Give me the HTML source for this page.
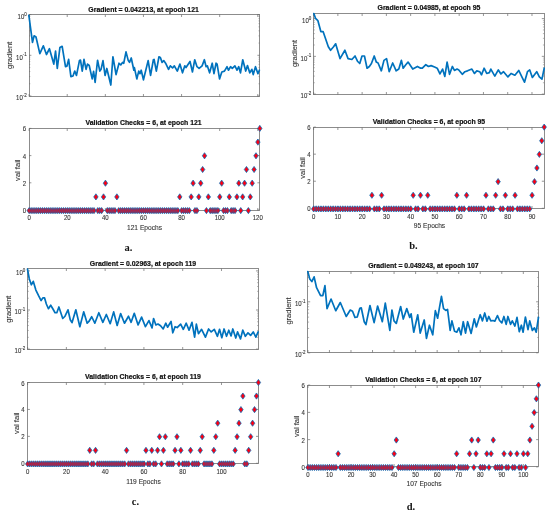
<!DOCTYPE html>
<html><head><meta charset="utf-8"><title>Training plots</title>
<style>
html,body{margin:0;padding:0;background:#fff;}
svg{display:block}
.t{font-family:"Liberation Sans",sans-serif;font-size:6.7px;fill:#333;stroke:#333;stroke-width:0.1px;}
.l{font-family:"Liberation Sans",sans-serif;font-size:7px;fill:#333;stroke:#333;stroke-width:0.1px;}
.b{font-family:"Liberation Sans",sans-serif;font-size:6.9px;font-weight:bold;fill:#111;stroke:#111;stroke-width:0.2px;}
.s{font-family:"Liberation Serif",serif;font-size:10.5px;font-weight:bold;fill:#111;}
</style></head><body>
<svg width="550" height="515" viewBox="0 0 550 515">
<rect width="550" height="515" fill="#fff"/>
<rect x="29.50" y="14.50" width="230.00" height="82.00" fill="none" stroke="#808080" stroke-width="0.9"/>
<path d="M29.10 96.50v-2.5M29.10 14.50v2.5" stroke="#6a6a6a" stroke-width="0.7" fill="none"/>
<path d="M67.22 96.50v-2.5M67.22 14.50v2.5" stroke="#6a6a6a" stroke-width="0.7" fill="none"/>
<path d="M105.33 96.50v-2.5M105.33 14.50v2.5" stroke="#6a6a6a" stroke-width="0.7" fill="none"/>
<path d="M143.45 96.50v-2.5M143.45 14.50v2.5" stroke="#6a6a6a" stroke-width="0.7" fill="none"/>
<path d="M181.56 96.50v-2.5M181.56 14.50v2.5" stroke="#6a6a6a" stroke-width="0.7" fill="none"/>
<path d="M219.68 96.50v-2.5M219.68 14.50v2.5" stroke="#6a6a6a" stroke-width="0.7" fill="none"/>
<path d="M257.79 96.50v-2.5M257.79 14.50v2.5" stroke="#6a6a6a" stroke-width="0.7" fill="none"/>
<path d="M29.10 14.60h2.3M259.70 14.60h-2.3" stroke="#6a6a6a" stroke-width="0.7" fill="none"/>
<text transform="translate(26.80 18.90) scale(0.9 1)" text-anchor="end" class="t">10<tspan dy="-3.3" font-size="5">0</tspan></text>
<path d="M29.10 55.30h2.3M259.70 55.30h-2.3" stroke="#6a6a6a" stroke-width="0.7" fill="none"/>
<text transform="translate(26.80 59.60) scale(0.9 1)" text-anchor="end" class="t">10<tspan dy="-3.3" font-size="5">-1</tspan></text>
<path d="M29.10 96.00h2.3M259.70 96.00h-2.3" stroke="#6a6a6a" stroke-width="0.7" fill="none"/>
<text transform="translate(26.80 100.30) scale(0.9 1)" text-anchor="end" class="t">10<tspan dy="-3.3" font-size="5">-2</tspan></text>
<path d="M29.10 43.05h1.2M259.70 43.05h-1.2" stroke="#6a6a6a" stroke-width="0.5" fill="none"/>
<path d="M29.10 35.88h1.2M259.70 35.88h-1.2" stroke="#6a6a6a" stroke-width="0.5" fill="none"/>
<path d="M29.10 30.80h1.2M259.70 30.80h-1.2" stroke="#6a6a6a" stroke-width="0.5" fill="none"/>
<path d="M29.10 26.85h1.2M259.70 26.85h-1.2" stroke="#6a6a6a" stroke-width="0.5" fill="none"/>
<path d="M29.10 23.63h1.2M259.70 23.63h-1.2" stroke="#6a6a6a" stroke-width="0.5" fill="none"/>
<path d="M29.10 20.90h1.2M259.70 20.90h-1.2" stroke="#6a6a6a" stroke-width="0.5" fill="none"/>
<path d="M29.10 18.54h1.2M259.70 18.54h-1.2" stroke="#6a6a6a" stroke-width="0.5" fill="none"/>
<path d="M29.10 16.46h1.2M259.70 16.46h-1.2" stroke="#6a6a6a" stroke-width="0.5" fill="none"/>
<path d="M29.10 83.75h1.2M259.70 83.75h-1.2" stroke="#6a6a6a" stroke-width="0.5" fill="none"/>
<path d="M29.10 76.58h1.2M259.70 76.58h-1.2" stroke="#6a6a6a" stroke-width="0.5" fill="none"/>
<path d="M29.10 71.50h1.2M259.70 71.50h-1.2" stroke="#6a6a6a" stroke-width="0.5" fill="none"/>
<path d="M29.10 67.55h1.2M259.70 67.55h-1.2" stroke="#6a6a6a" stroke-width="0.5" fill="none"/>
<path d="M29.10 64.33h1.2M259.70 64.33h-1.2" stroke="#6a6a6a" stroke-width="0.5" fill="none"/>
<path d="M29.10 61.60h1.2M259.70 61.60h-1.2" stroke="#6a6a6a" stroke-width="0.5" fill="none"/>
<path d="M29.10 59.24h1.2M259.70 59.24h-1.2" stroke="#6a6a6a" stroke-width="0.5" fill="none"/>
<path d="M29.10 57.16h1.2M259.70 57.16h-1.2" stroke="#6a6a6a" stroke-width="0.5" fill="none"/>
<text x="143.60" y="11.60" text-anchor="middle" class="b">Gradient = 0.042213, at epoch 121</text>
<text transform="translate(11.80 55.30) rotate(-90) scale(1.08 1)" text-anchor="middle" class="l">gradient</text>
<path d="M28.84 15.24 L32.50 42.29 L34.08 35.83 L35.99 37.05 L39.83 53.63 L43.32 45.78 L46.47 54.50 L49.43 48.74 L53.80 64.10 L55.54 51.01 L57.29 68.46 L59.90 47.52 L62.17 46.30 L65.49 66.72 L66.88 66.20 L68.63 59.39 L70.90 76.67 L72.99 75.97 L74.74 71.08 L76.48 75.45 L79.45 60.61 L80.50 60.09 L82.24 71.08 L83.99 59.39 L86.08 69.34 L87.48 64.10 L89.22 65.50 L92.19 78.94 L93.59 71.43 L95.12 82.43 L97.57 60.26 L99.83 71.08 L101.06 69.34 L102.98 60.61 L105.07 75.45 L106.82 68.46 L110.83 85.04 L112.92 56.77 L116.06 74.57 L119.03 63.23 L120.78 64.97 L122.52 62.36 L123.74 63.23 L126.01 51.88 L128.28 60.61 L129.50 62.36 L131.25 57.99 L133.87 70.21 L134.39 67.59 L136.83 78.94 L138.75 71.08 L139.97 73.70 L141.20 70.21 L143.46 79.81 L148.14 60.61 L150.58 75.45 L153.38 59.74 L154.08 59.39 L156.34 71.08 L158.96 56.77 L160.36 57.47 L162.10 62.36 L163.85 60.61 L165.59 63.23 L168.56 69.34 L170.31 65.85 L172.57 67.94 L174.32 65.85 L177.29 71.08 L179.90 64.10 L182.52 72.83 L184.79 65.85 L186.01 67.59 L190.03 61.48 L192.47 71.95 L194.74 59.74 L197.01 66.72 L199.10 68.46 L202.09 65.85 L204.36 59.74 L206.11 66.72 L207.33 65.85 L209.60 72.83 L212.22 63.23 L213.96 73.70 L216.06 63.23 L217.10 64.10 L219.55 78.94 L221.82 71.95 L224.43 71.08 L227.05 66.72 L228.45 70.21 L230.54 66.72 L232.29 68.46 L234.90 65.85 L237.00 70.21 L238.74 66.72 L240.49 72.83 L242.76 59.74 L245.72 71.08 L247.47 65.50 L249.74 72.83 L251.83 69.34 L253.23 74.57 L255.50 66.72 L257.94 73.70 L259.34 70.21" fill="none" stroke="#0072BD" stroke-width="1.7" stroke-linejoin="round" stroke-linecap="round"/>
<rect x="29.50" y="128.50" width="230.00" height="82.00" fill="none" stroke="#808080" stroke-width="0.9"/>
<path d="M29.10 210.50v-2.5M29.10 128.50v2.5" stroke="#6a6a6a" stroke-width="0.7" fill="none"/>
<text transform="translate(29.10 220.10) scale(0.9 1)" text-anchor="middle" class="t">0</text>
<path d="M67.22 210.50v-2.5M67.22 128.50v2.5" stroke="#6a6a6a" stroke-width="0.7" fill="none"/>
<text transform="translate(67.22 220.10) scale(0.9 1)" text-anchor="middle" class="t">20</text>
<path d="M105.33 210.50v-2.5M105.33 128.50v2.5" stroke="#6a6a6a" stroke-width="0.7" fill="none"/>
<text transform="translate(105.33 220.10) scale(0.9 1)" text-anchor="middle" class="t">40</text>
<path d="M143.45 210.50v-2.5M143.45 128.50v2.5" stroke="#6a6a6a" stroke-width="0.7" fill="none"/>
<text transform="translate(143.45 220.10) scale(0.9 1)" text-anchor="middle" class="t">60</text>
<path d="M181.56 210.50v-2.5M181.56 128.50v2.5" stroke="#6a6a6a" stroke-width="0.7" fill="none"/>
<text transform="translate(181.56 220.10) scale(0.9 1)" text-anchor="middle" class="t">80</text>
<path d="M219.68 210.50v-2.5M219.68 128.50v2.5" stroke="#6a6a6a" stroke-width="0.7" fill="none"/>
<text transform="translate(219.68 220.10) scale(0.9 1)" text-anchor="middle" class="t">100</text>
<path d="M257.79 210.50v-2.5M257.79 128.50v2.5" stroke="#6a6a6a" stroke-width="0.7" fill="none"/>
<text transform="translate(257.79 220.10) scale(0.9 1)" text-anchor="middle" class="t">120</text>
<path d="M29.10 210.00h2.3M259.70 210.00h-2.3" stroke="#6a6a6a" stroke-width="0.7" fill="none"/>
<text transform="translate(26.10 213.00) scale(0.9 1)" text-anchor="end" class="t">0</text>
<path d="M29.10 182.80h2.3M259.70 182.80h-2.3" stroke="#6a6a6a" stroke-width="0.7" fill="none"/>
<text transform="translate(26.10 185.80) scale(0.9 1)" text-anchor="end" class="t">2</text>
<path d="M29.10 155.60h2.3M259.70 155.60h-2.3" stroke="#6a6a6a" stroke-width="0.7" fill="none"/>
<text transform="translate(26.10 158.60) scale(0.9 1)" text-anchor="end" class="t">4</text>
<path d="M29.10 128.40h2.3M259.70 128.40h-2.3" stroke="#6a6a6a" stroke-width="0.7" fill="none"/>
<text transform="translate(26.10 131.40) scale(0.9 1)" text-anchor="end" class="t">6</text>
<path d="M29.20 207.50l2.2 3.1l-2.2 3.1l-2.2 -3.1zM31.11 207.50l2.2 3.1l-2.2 3.1l-2.2 -3.1zM33.01 207.50l2.2 3.1l-2.2 3.1l-2.2 -3.1zM34.92 207.50l2.2 3.1l-2.2 3.1l-2.2 -3.1zM36.82 207.50l2.2 3.1l-2.2 3.1l-2.2 -3.1zM38.73 207.50l2.2 3.1l-2.2 3.1l-2.2 -3.1zM40.63 207.50l2.2 3.1l-2.2 3.1l-2.2 -3.1zM42.54 207.50l2.2 3.1l-2.2 3.1l-2.2 -3.1zM44.45 207.50l2.2 3.1l-2.2 3.1l-2.2 -3.1zM46.35 207.50l2.2 3.1l-2.2 3.1l-2.2 -3.1zM48.26 207.50l2.2 3.1l-2.2 3.1l-2.2 -3.1zM50.16 207.50l2.2 3.1l-2.2 3.1l-2.2 -3.1zM52.07 207.50l2.2 3.1l-2.2 3.1l-2.2 -3.1zM53.98 207.50l2.2 3.1l-2.2 3.1l-2.2 -3.1zM55.88 207.50l2.2 3.1l-2.2 3.1l-2.2 -3.1zM57.79 207.50l2.2 3.1l-2.2 3.1l-2.2 -3.1zM59.69 207.50l2.2 3.1l-2.2 3.1l-2.2 -3.1zM61.60 207.50l2.2 3.1l-2.2 3.1l-2.2 -3.1zM63.50 207.50l2.2 3.1l-2.2 3.1l-2.2 -3.1zM65.41 207.50l2.2 3.1l-2.2 3.1l-2.2 -3.1zM67.32 207.50l2.2 3.1l-2.2 3.1l-2.2 -3.1zM69.22 207.50l2.2 3.1l-2.2 3.1l-2.2 -3.1zM71.13 207.50l2.2 3.1l-2.2 3.1l-2.2 -3.1zM73.03 207.50l2.2 3.1l-2.2 3.1l-2.2 -3.1zM74.94 207.50l2.2 3.1l-2.2 3.1l-2.2 -3.1zM76.84 207.50l2.2 3.1l-2.2 3.1l-2.2 -3.1zM78.75 207.50l2.2 3.1l-2.2 3.1l-2.2 -3.1zM80.66 207.50l2.2 3.1l-2.2 3.1l-2.2 -3.1zM82.56 207.50l2.2 3.1l-2.2 3.1l-2.2 -3.1zM84.47 207.50l2.2 3.1l-2.2 3.1l-2.2 -3.1zM86.37 207.50l2.2 3.1l-2.2 3.1l-2.2 -3.1zM88.28 207.50l2.2 3.1l-2.2 3.1l-2.2 -3.1zM90.19 207.50l2.2 3.1l-2.2 3.1l-2.2 -3.1zM92.09 207.50l2.2 3.1l-2.2 3.1l-2.2 -3.1zM94.00 207.50l2.2 3.1l-2.2 3.1l-2.2 -3.1zM95.90 193.80l2.2 3.1l-2.2 3.1l-2.2 -3.1zM97.81 207.50l2.2 3.1l-2.2 3.1l-2.2 -3.1zM99.71 207.50l2.2 3.1l-2.2 3.1l-2.2 -3.1zM101.62 207.50l2.2 3.1l-2.2 3.1l-2.2 -3.1zM103.53 193.80l2.2 3.1l-2.2 3.1l-2.2 -3.1zM105.43 180.10l2.2 3.1l-2.2 3.1l-2.2 -3.1zM107.34 207.50l2.2 3.1l-2.2 3.1l-2.2 -3.1zM109.24 207.50l2.2 3.1l-2.2 3.1l-2.2 -3.1zM111.15 207.50l2.2 3.1l-2.2 3.1l-2.2 -3.1zM113.05 207.50l2.2 3.1l-2.2 3.1l-2.2 -3.1zM114.96 207.50l2.2 3.1l-2.2 3.1l-2.2 -3.1zM116.87 193.80l2.2 3.1l-2.2 3.1l-2.2 -3.1zM118.77 207.50l2.2 3.1l-2.2 3.1l-2.2 -3.1zM120.68 207.50l2.2 3.1l-2.2 3.1l-2.2 -3.1zM122.58 207.50l2.2 3.1l-2.2 3.1l-2.2 -3.1zM124.49 207.50l2.2 3.1l-2.2 3.1l-2.2 -3.1zM126.40 207.50l2.2 3.1l-2.2 3.1l-2.2 -3.1zM128.30 207.50l2.2 3.1l-2.2 3.1l-2.2 -3.1zM130.21 207.50l2.2 3.1l-2.2 3.1l-2.2 -3.1zM132.11 207.50l2.2 3.1l-2.2 3.1l-2.2 -3.1zM134.02 207.50l2.2 3.1l-2.2 3.1l-2.2 -3.1zM135.92 207.50l2.2 3.1l-2.2 3.1l-2.2 -3.1zM137.83 207.50l2.2 3.1l-2.2 3.1l-2.2 -3.1zM139.74 207.50l2.2 3.1l-2.2 3.1l-2.2 -3.1zM141.64 207.50l2.2 3.1l-2.2 3.1l-2.2 -3.1zM143.55 207.50l2.2 3.1l-2.2 3.1l-2.2 -3.1zM145.45 207.50l2.2 3.1l-2.2 3.1l-2.2 -3.1zM147.36 207.50l2.2 3.1l-2.2 3.1l-2.2 -3.1zM149.26 207.50l2.2 3.1l-2.2 3.1l-2.2 -3.1zM151.17 207.50l2.2 3.1l-2.2 3.1l-2.2 -3.1zM153.08 207.50l2.2 3.1l-2.2 3.1l-2.2 -3.1zM154.98 207.50l2.2 3.1l-2.2 3.1l-2.2 -3.1zM156.89 207.50l2.2 3.1l-2.2 3.1l-2.2 -3.1zM158.79 207.50l2.2 3.1l-2.2 3.1l-2.2 -3.1zM160.70 207.50l2.2 3.1l-2.2 3.1l-2.2 -3.1zM162.60 207.50l2.2 3.1l-2.2 3.1l-2.2 -3.1zM164.51 207.50l2.2 3.1l-2.2 3.1l-2.2 -3.1zM166.42 207.50l2.2 3.1l-2.2 3.1l-2.2 -3.1zM168.32 207.50l2.2 3.1l-2.2 3.1l-2.2 -3.1zM170.23 207.50l2.2 3.1l-2.2 3.1l-2.2 -3.1zM172.13 207.50l2.2 3.1l-2.2 3.1l-2.2 -3.1zM174.04 207.50l2.2 3.1l-2.2 3.1l-2.2 -3.1zM175.95 207.50l2.2 3.1l-2.2 3.1l-2.2 -3.1zM177.85 207.50l2.2 3.1l-2.2 3.1l-2.2 -3.1zM179.76 193.80l2.2 3.1l-2.2 3.1l-2.2 -3.1zM181.66 207.50l2.2 3.1l-2.2 3.1l-2.2 -3.1zM183.57 207.50l2.2 3.1l-2.2 3.1l-2.2 -3.1zM185.47 207.50l2.2 3.1l-2.2 3.1l-2.2 -3.1zM187.38 207.50l2.2 3.1l-2.2 3.1l-2.2 -3.1zM189.29 207.50l2.2 3.1l-2.2 3.1l-2.2 -3.1zM191.19 193.80l2.2 3.1l-2.2 3.1l-2.2 -3.1zM193.10 180.10l2.2 3.1l-2.2 3.1l-2.2 -3.1zM195.00 207.50l2.2 3.1l-2.2 3.1l-2.2 -3.1zM196.91 207.50l2.2 3.1l-2.2 3.1l-2.2 -3.1zM198.81 193.80l2.2 3.1l-2.2 3.1l-2.2 -3.1zM200.72 180.10l2.2 3.1l-2.2 3.1l-2.2 -3.1zM202.63 166.40l2.2 3.1l-2.2 3.1l-2.2 -3.1zM204.53 152.70l2.2 3.1l-2.2 3.1l-2.2 -3.1zM206.44 207.50l2.2 3.1l-2.2 3.1l-2.2 -3.1zM208.34 193.80l2.2 3.1l-2.2 3.1l-2.2 -3.1zM210.25 207.50l2.2 3.1l-2.2 3.1l-2.2 -3.1zM212.16 207.50l2.2 3.1l-2.2 3.1l-2.2 -3.1zM214.06 207.50l2.2 3.1l-2.2 3.1l-2.2 -3.1zM215.97 207.50l2.2 3.1l-2.2 3.1l-2.2 -3.1zM217.87 207.50l2.2 3.1l-2.2 3.1l-2.2 -3.1zM219.78 193.80l2.2 3.1l-2.2 3.1l-2.2 -3.1zM221.68 180.10l2.2 3.1l-2.2 3.1l-2.2 -3.1zM223.59 207.50l2.2 3.1l-2.2 3.1l-2.2 -3.1zM225.50 207.50l2.2 3.1l-2.2 3.1l-2.2 -3.1zM227.40 207.50l2.2 3.1l-2.2 3.1l-2.2 -3.1zM229.31 193.80l2.2 3.1l-2.2 3.1l-2.2 -3.1zM231.21 207.50l2.2 3.1l-2.2 3.1l-2.2 -3.1zM233.12 207.50l2.2 3.1l-2.2 3.1l-2.2 -3.1zM235.02 207.50l2.2 3.1l-2.2 3.1l-2.2 -3.1zM236.93 193.80l2.2 3.1l-2.2 3.1l-2.2 -3.1zM238.84 180.10l2.2 3.1l-2.2 3.1l-2.2 -3.1zM240.74 207.50l2.2 3.1l-2.2 3.1l-2.2 -3.1zM242.65 193.80l2.2 3.1l-2.2 3.1l-2.2 -3.1zM244.55 180.10l2.2 3.1l-2.2 3.1l-2.2 -3.1zM246.46 166.40l2.2 3.1l-2.2 3.1l-2.2 -3.1zM248.37 207.50l2.2 3.1l-2.2 3.1l-2.2 -3.1zM250.27 193.80l2.2 3.1l-2.2 3.1l-2.2 -3.1zM252.18 180.10l2.2 3.1l-2.2 3.1l-2.2 -3.1zM254.08 166.40l2.2 3.1l-2.2 3.1l-2.2 -3.1zM255.99 152.70l2.2 3.1l-2.2 3.1l-2.2 -3.1zM257.89 139.00l2.2 3.1l-2.2 3.1l-2.2 -3.1zM259.80 125.30l2.2 3.1l-2.2 3.1l-2.2 -3.1z" fill="#fa0015" stroke="#0072BD" stroke-width="0.75" stroke-linejoin="miter"/>
<path d="M29.20 208.40l1.4 2.2l-1.4 2.2l-1.4 -2.2zM31.11 208.40l1.4 2.2l-1.4 2.2l-1.4 -2.2zM33.01 208.40l1.4 2.2l-1.4 2.2l-1.4 -2.2zM34.92 208.40l1.4 2.2l-1.4 2.2l-1.4 -2.2zM36.82 208.40l1.4 2.2l-1.4 2.2l-1.4 -2.2zM38.73 208.40l1.4 2.2l-1.4 2.2l-1.4 -2.2zM40.63 208.40l1.4 2.2l-1.4 2.2l-1.4 -2.2zM42.54 208.40l1.4 2.2l-1.4 2.2l-1.4 -2.2zM44.45 208.40l1.4 2.2l-1.4 2.2l-1.4 -2.2zM46.35 208.40l1.4 2.2l-1.4 2.2l-1.4 -2.2zM48.26 208.40l1.4 2.2l-1.4 2.2l-1.4 -2.2zM50.16 208.40l1.4 2.2l-1.4 2.2l-1.4 -2.2zM52.07 208.40l1.4 2.2l-1.4 2.2l-1.4 -2.2zM53.98 208.40l1.4 2.2l-1.4 2.2l-1.4 -2.2zM55.88 208.40l1.4 2.2l-1.4 2.2l-1.4 -2.2zM57.79 208.40l1.4 2.2l-1.4 2.2l-1.4 -2.2zM59.69 208.40l1.4 2.2l-1.4 2.2l-1.4 -2.2zM61.60 208.40l1.4 2.2l-1.4 2.2l-1.4 -2.2zM63.50 208.40l1.4 2.2l-1.4 2.2l-1.4 -2.2zM65.41 208.40l1.4 2.2l-1.4 2.2l-1.4 -2.2zM67.32 208.40l1.4 2.2l-1.4 2.2l-1.4 -2.2zM69.22 208.40l1.4 2.2l-1.4 2.2l-1.4 -2.2zM71.13 208.40l1.4 2.2l-1.4 2.2l-1.4 -2.2zM73.03 208.40l1.4 2.2l-1.4 2.2l-1.4 -2.2zM74.94 208.40l1.4 2.2l-1.4 2.2l-1.4 -2.2zM76.84 208.40l1.4 2.2l-1.4 2.2l-1.4 -2.2zM78.75 208.40l1.4 2.2l-1.4 2.2l-1.4 -2.2zM80.66 208.40l1.4 2.2l-1.4 2.2l-1.4 -2.2zM82.56 208.40l1.4 2.2l-1.4 2.2l-1.4 -2.2zM84.47 208.40l1.4 2.2l-1.4 2.2l-1.4 -2.2zM86.37 208.40l1.4 2.2l-1.4 2.2l-1.4 -2.2zM88.28 208.40l1.4 2.2l-1.4 2.2l-1.4 -2.2zM90.19 208.40l1.4 2.2l-1.4 2.2l-1.4 -2.2zM92.09 208.40l1.4 2.2l-1.4 2.2l-1.4 -2.2zM94.00 208.40l1.4 2.2l-1.4 2.2l-1.4 -2.2zM95.90 194.70l1.4 2.2l-1.4 2.2l-1.4 -2.2zM97.81 208.40l1.4 2.2l-1.4 2.2l-1.4 -2.2zM99.71 208.40l1.4 2.2l-1.4 2.2l-1.4 -2.2zM101.62 208.40l1.4 2.2l-1.4 2.2l-1.4 -2.2zM103.53 194.70l1.4 2.2l-1.4 2.2l-1.4 -2.2zM105.43 181.00l1.4 2.2l-1.4 2.2l-1.4 -2.2zM107.34 208.40l1.4 2.2l-1.4 2.2l-1.4 -2.2zM109.24 208.40l1.4 2.2l-1.4 2.2l-1.4 -2.2zM111.15 208.40l1.4 2.2l-1.4 2.2l-1.4 -2.2zM113.05 208.40l1.4 2.2l-1.4 2.2l-1.4 -2.2zM114.96 208.40l1.4 2.2l-1.4 2.2l-1.4 -2.2zM116.87 194.70l1.4 2.2l-1.4 2.2l-1.4 -2.2zM118.77 208.40l1.4 2.2l-1.4 2.2l-1.4 -2.2zM120.68 208.40l1.4 2.2l-1.4 2.2l-1.4 -2.2zM122.58 208.40l1.4 2.2l-1.4 2.2l-1.4 -2.2zM124.49 208.40l1.4 2.2l-1.4 2.2l-1.4 -2.2zM126.40 208.40l1.4 2.2l-1.4 2.2l-1.4 -2.2zM128.30 208.40l1.4 2.2l-1.4 2.2l-1.4 -2.2zM130.21 208.40l1.4 2.2l-1.4 2.2l-1.4 -2.2zM132.11 208.40l1.4 2.2l-1.4 2.2l-1.4 -2.2zM134.02 208.40l1.4 2.2l-1.4 2.2l-1.4 -2.2zM135.92 208.40l1.4 2.2l-1.4 2.2l-1.4 -2.2zM137.83 208.40l1.4 2.2l-1.4 2.2l-1.4 -2.2zM139.74 208.40l1.4 2.2l-1.4 2.2l-1.4 -2.2zM141.64 208.40l1.4 2.2l-1.4 2.2l-1.4 -2.2zM143.55 208.40l1.4 2.2l-1.4 2.2l-1.4 -2.2zM145.45 208.40l1.4 2.2l-1.4 2.2l-1.4 -2.2zM147.36 208.40l1.4 2.2l-1.4 2.2l-1.4 -2.2zM149.26 208.40l1.4 2.2l-1.4 2.2l-1.4 -2.2zM151.17 208.40l1.4 2.2l-1.4 2.2l-1.4 -2.2zM153.08 208.40l1.4 2.2l-1.4 2.2l-1.4 -2.2zM154.98 208.40l1.4 2.2l-1.4 2.2l-1.4 -2.2zM156.89 208.40l1.4 2.2l-1.4 2.2l-1.4 -2.2zM158.79 208.40l1.4 2.2l-1.4 2.2l-1.4 -2.2zM160.70 208.40l1.4 2.2l-1.4 2.2l-1.4 -2.2zM162.60 208.40l1.4 2.2l-1.4 2.2l-1.4 -2.2zM164.51 208.40l1.4 2.2l-1.4 2.2l-1.4 -2.2zM166.42 208.40l1.4 2.2l-1.4 2.2l-1.4 -2.2zM168.32 208.40l1.4 2.2l-1.4 2.2l-1.4 -2.2zM170.23 208.40l1.4 2.2l-1.4 2.2l-1.4 -2.2zM172.13 208.40l1.4 2.2l-1.4 2.2l-1.4 -2.2zM174.04 208.40l1.4 2.2l-1.4 2.2l-1.4 -2.2zM175.95 208.40l1.4 2.2l-1.4 2.2l-1.4 -2.2zM177.85 208.40l1.4 2.2l-1.4 2.2l-1.4 -2.2zM179.76 194.70l1.4 2.2l-1.4 2.2l-1.4 -2.2zM181.66 208.40l1.4 2.2l-1.4 2.2l-1.4 -2.2zM183.57 208.40l1.4 2.2l-1.4 2.2l-1.4 -2.2zM185.47 208.40l1.4 2.2l-1.4 2.2l-1.4 -2.2zM187.38 208.40l1.4 2.2l-1.4 2.2l-1.4 -2.2zM189.29 208.40l1.4 2.2l-1.4 2.2l-1.4 -2.2zM191.19 194.70l1.4 2.2l-1.4 2.2l-1.4 -2.2zM193.10 181.00l1.4 2.2l-1.4 2.2l-1.4 -2.2zM195.00 208.40l1.4 2.2l-1.4 2.2l-1.4 -2.2zM196.91 208.40l1.4 2.2l-1.4 2.2l-1.4 -2.2zM198.81 194.70l1.4 2.2l-1.4 2.2l-1.4 -2.2zM200.72 181.00l1.4 2.2l-1.4 2.2l-1.4 -2.2zM202.63 167.30l1.4 2.2l-1.4 2.2l-1.4 -2.2zM204.53 153.60l1.4 2.2l-1.4 2.2l-1.4 -2.2zM206.44 208.40l1.4 2.2l-1.4 2.2l-1.4 -2.2zM208.34 194.70l1.4 2.2l-1.4 2.2l-1.4 -2.2zM210.25 208.40l1.4 2.2l-1.4 2.2l-1.4 -2.2zM212.16 208.40l1.4 2.2l-1.4 2.2l-1.4 -2.2zM214.06 208.40l1.4 2.2l-1.4 2.2l-1.4 -2.2zM215.97 208.40l1.4 2.2l-1.4 2.2l-1.4 -2.2zM217.87 208.40l1.4 2.2l-1.4 2.2l-1.4 -2.2zM219.78 194.70l1.4 2.2l-1.4 2.2l-1.4 -2.2zM221.68 181.00l1.4 2.2l-1.4 2.2l-1.4 -2.2zM223.59 208.40l1.4 2.2l-1.4 2.2l-1.4 -2.2zM225.50 208.40l1.4 2.2l-1.4 2.2l-1.4 -2.2zM227.40 208.40l1.4 2.2l-1.4 2.2l-1.4 -2.2zM229.31 194.70l1.4 2.2l-1.4 2.2l-1.4 -2.2zM231.21 208.40l1.4 2.2l-1.4 2.2l-1.4 -2.2zM233.12 208.40l1.4 2.2l-1.4 2.2l-1.4 -2.2zM235.02 208.40l1.4 2.2l-1.4 2.2l-1.4 -2.2zM236.93 194.70l1.4 2.2l-1.4 2.2l-1.4 -2.2zM238.84 181.00l1.4 2.2l-1.4 2.2l-1.4 -2.2zM240.74 208.40l1.4 2.2l-1.4 2.2l-1.4 -2.2zM242.65 194.70l1.4 2.2l-1.4 2.2l-1.4 -2.2zM244.55 181.00l1.4 2.2l-1.4 2.2l-1.4 -2.2zM246.46 167.30l1.4 2.2l-1.4 2.2l-1.4 -2.2zM248.37 208.40l1.4 2.2l-1.4 2.2l-1.4 -2.2zM250.27 194.70l1.4 2.2l-1.4 2.2l-1.4 -2.2zM252.18 181.00l1.4 2.2l-1.4 2.2l-1.4 -2.2zM254.08 167.30l1.4 2.2l-1.4 2.2l-1.4 -2.2zM255.99 153.60l1.4 2.2l-1.4 2.2l-1.4 -2.2zM257.89 139.90l1.4 2.2l-1.4 2.2l-1.4 -2.2zM259.80 126.20l1.4 2.2l-1.4 2.2l-1.4 -2.2z" fill="#fa0015" fill-opacity="0.4"/>
<text x="143.60" y="124.70" text-anchor="middle" class="b">Validation Checks = 6, at epoch 121</text>
<text transform="translate(19.70 170.20) rotate(-90) scale(1.08 1)" text-anchor="middle" class="l">val fail</text>
<text transform="translate(144.5 229.9) scale(0.95 1)" text-anchor="middle" class="l">121 Epochs</text>
<text x="128.5" y="250.9" text-anchor="middle" class="s">a.</text>
<rect x="313.50" y="13.50" width="231.00" height="81.00" fill="none" stroke="#808080" stroke-width="0.9"/>
<path d="M313.60 94.50v-2.5M313.60 13.50v2.5" stroke="#6a6a6a" stroke-width="0.7" fill="none"/>
<path d="M337.86 94.50v-2.5M337.86 13.50v2.5" stroke="#6a6a6a" stroke-width="0.7" fill="none"/>
<path d="M362.13 94.50v-2.5M362.13 13.50v2.5" stroke="#6a6a6a" stroke-width="0.7" fill="none"/>
<path d="M386.39 94.50v-2.5M386.39 13.50v2.5" stroke="#6a6a6a" stroke-width="0.7" fill="none"/>
<path d="M410.65 94.50v-2.5M410.65 13.50v2.5" stroke="#6a6a6a" stroke-width="0.7" fill="none"/>
<path d="M434.92 94.50v-2.5M434.92 13.50v2.5" stroke="#6a6a6a" stroke-width="0.7" fill="none"/>
<path d="M459.18 94.50v-2.5M459.18 13.50v2.5" stroke="#6a6a6a" stroke-width="0.7" fill="none"/>
<path d="M483.44 94.50v-2.5M483.44 13.50v2.5" stroke="#6a6a6a" stroke-width="0.7" fill="none"/>
<path d="M507.71 94.50v-2.5M507.71 13.50v2.5" stroke="#6a6a6a" stroke-width="0.7" fill="none"/>
<path d="M531.97 94.50v-2.5M531.97 13.50v2.5" stroke="#6a6a6a" stroke-width="0.7" fill="none"/>
<path d="M313.60 18.60h2.3M544.10 18.60h-2.3" stroke="#6a6a6a" stroke-width="0.7" fill="none"/>
<text transform="translate(311.30 22.90) scale(0.9 1)" text-anchor="end" class="t">10<tspan dy="-3.3" font-size="5">0</tspan></text>
<path d="M313.60 56.35h2.3M544.10 56.35h-2.3" stroke="#6a6a6a" stroke-width="0.7" fill="none"/>
<text transform="translate(311.30 60.65) scale(0.9 1)" text-anchor="end" class="t">10<tspan dy="-3.3" font-size="5">-1</tspan></text>
<path d="M313.60 94.10h2.3M544.10 94.10h-2.3" stroke="#6a6a6a" stroke-width="0.7" fill="none"/>
<text transform="translate(311.30 98.40) scale(0.9 1)" text-anchor="end" class="t">10<tspan dy="-3.3" font-size="5">-2</tspan></text>
<path d="M313.60 44.99h1.2M544.10 44.99h-1.2" stroke="#6a6a6a" stroke-width="0.5" fill="none"/>
<path d="M313.60 38.34h1.2M544.10 38.34h-1.2" stroke="#6a6a6a" stroke-width="0.5" fill="none"/>
<path d="M313.60 33.62h1.2M544.10 33.62h-1.2" stroke="#6a6a6a" stroke-width="0.5" fill="none"/>
<path d="M313.60 29.96h1.2M544.10 29.96h-1.2" stroke="#6a6a6a" stroke-width="0.5" fill="none"/>
<path d="M313.60 26.97h1.2M544.10 26.97h-1.2" stroke="#6a6a6a" stroke-width="0.5" fill="none"/>
<path d="M313.60 24.45h1.2M544.10 24.45h-1.2" stroke="#6a6a6a" stroke-width="0.5" fill="none"/>
<path d="M313.60 22.26h1.2M544.10 22.26h-1.2" stroke="#6a6a6a" stroke-width="0.5" fill="none"/>
<path d="M313.60 20.33h1.2M544.10 20.33h-1.2" stroke="#6a6a6a" stroke-width="0.5" fill="none"/>
<path d="M313.60 82.74h1.2M544.10 82.74h-1.2" stroke="#6a6a6a" stroke-width="0.5" fill="none"/>
<path d="M313.60 76.09h1.2M544.10 76.09h-1.2" stroke="#6a6a6a" stroke-width="0.5" fill="none"/>
<path d="M313.60 71.37h1.2M544.10 71.37h-1.2" stroke="#6a6a6a" stroke-width="0.5" fill="none"/>
<path d="M313.60 67.71h1.2M544.10 67.71h-1.2" stroke="#6a6a6a" stroke-width="0.5" fill="none"/>
<path d="M313.60 64.72h1.2M544.10 64.72h-1.2" stroke="#6a6a6a" stroke-width="0.5" fill="none"/>
<path d="M313.60 62.20h1.2M544.10 62.20h-1.2" stroke="#6a6a6a" stroke-width="0.5" fill="none"/>
<path d="M313.60 60.01h1.2M544.10 60.01h-1.2" stroke="#6a6a6a" stroke-width="0.5" fill="none"/>
<path d="M313.60 58.08h1.2M544.10 58.08h-1.2" stroke="#6a6a6a" stroke-width="0.5" fill="none"/>
<text x="429.00" y="10.30" text-anchor="middle" class="b">Gradient = 0.04985, at epoch 95</text>
<text transform="translate(297.30 53.50) rotate(-90) scale(1.08 1)" text-anchor="middle" class="l">gradient</text>
<path d="M313.84 13.58 L315.58 18.47 L317.85 20.57 L320.82 31.56 L323.09 31.56 L328.32 46.74 L330.59 50.23 L333.56 46.74 L335.65 43.78 L340.02 58.61 L344.90 50.23 L348.05 58.61 L351.88 59.48 L355.03 55.99 L357.47 61.23 L359.74 63.50 L362.01 55.99 L364.45 55.99 L367.07 68.21 L369.34 66.46 L371.43 63.50 L374.22 55.99 L376.32 62.10 L378.06 62.97 L381.34 70.83 L383.96 60.36 L386.58 58.61 L389.20 71.70 L392.69 62.97 L396.18 70.83 L398.80 69.08 L401.41 60.36 L403.16 68.21 L405.78 64.72 L408.05 62.10 L412.76 69.08 L417.47 66.46 L420.61 68.21 L422.36 68.21 L425.85 64.72 L428.46 66.46 L431.08 65.59 L434.57 66.99 L437.19 68.21 L439.95 73.97 L442.57 69.08 L444.83 76.41 L447.10 62.10 L449.55 74.32 L452.34 66.46 L454.43 70.48 L457.05 69.08 L458.80 69.95 L462.29 74.32 L464.90 71.70 L467.52 70.83 L471.88 69.08 L474.50 73.45 L476.77 70.83 L479.74 71.70 L481.48 74.84 L484.10 68.21 L486.72 73.45 L489.34 72.57 L490.82 69.08 L494.83 76.06 L498.32 69.95 L500.94 73.97 L503.56 71.70 L507.92 76.94 L511.06 73.45 L514.90 75.19 L518.74 70.48 L521.88 76.94 L524.50 82.17 L527.47 71.70 L529.74 69.95 L532.36 77.46 L536.72 71.70 L539.34 76.94 L541.95 79.20 L544.22 68.21" fill="none" stroke="#0072BD" stroke-width="1.7" stroke-linejoin="round" stroke-linecap="round"/>
<rect x="313.50" y="127.50" width="231.00" height="81.00" fill="none" stroke="#808080" stroke-width="0.9"/>
<path d="M313.60 208.50v-2.5M313.60 127.50v2.5" stroke="#6a6a6a" stroke-width="0.7" fill="none"/>
<text transform="translate(313.60 219.20) scale(0.9 1)" text-anchor="middle" class="t">0</text>
<path d="M337.86 208.50v-2.5M337.86 127.50v2.5" stroke="#6a6a6a" stroke-width="0.7" fill="none"/>
<text transform="translate(337.86 219.20) scale(0.9 1)" text-anchor="middle" class="t">10</text>
<path d="M362.13 208.50v-2.5M362.13 127.50v2.5" stroke="#6a6a6a" stroke-width="0.7" fill="none"/>
<text transform="translate(362.13 219.20) scale(0.9 1)" text-anchor="middle" class="t">20</text>
<path d="M386.39 208.50v-2.5M386.39 127.50v2.5" stroke="#6a6a6a" stroke-width="0.7" fill="none"/>
<text transform="translate(386.39 219.20) scale(0.9 1)" text-anchor="middle" class="t">30</text>
<path d="M410.65 208.50v-2.5M410.65 127.50v2.5" stroke="#6a6a6a" stroke-width="0.7" fill="none"/>
<text transform="translate(410.65 219.20) scale(0.9 1)" text-anchor="middle" class="t">40</text>
<path d="M434.92 208.50v-2.5M434.92 127.50v2.5" stroke="#6a6a6a" stroke-width="0.7" fill="none"/>
<text transform="translate(434.92 219.20) scale(0.9 1)" text-anchor="middle" class="t">50</text>
<path d="M459.18 208.50v-2.5M459.18 127.50v2.5" stroke="#6a6a6a" stroke-width="0.7" fill="none"/>
<text transform="translate(459.18 219.20) scale(0.9 1)" text-anchor="middle" class="t">60</text>
<path d="M483.44 208.50v-2.5M483.44 127.50v2.5" stroke="#6a6a6a" stroke-width="0.7" fill="none"/>
<text transform="translate(483.44 219.20) scale(0.9 1)" text-anchor="middle" class="t">70</text>
<path d="M507.71 208.50v-2.5M507.71 127.50v2.5" stroke="#6a6a6a" stroke-width="0.7" fill="none"/>
<text transform="translate(507.71 219.20) scale(0.9 1)" text-anchor="middle" class="t">80</text>
<path d="M531.97 208.50v-2.5M531.97 127.50v2.5" stroke="#6a6a6a" stroke-width="0.7" fill="none"/>
<text transform="translate(531.97 219.20) scale(0.9 1)" text-anchor="middle" class="t">90</text>
<path d="M313.60 208.30h2.3M544.10 208.30h-2.3" stroke="#6a6a6a" stroke-width="0.7" fill="none"/>
<text transform="translate(310.60 211.30) scale(0.9 1)" text-anchor="end" class="t">0</text>
<path d="M313.60 181.23h2.3M544.10 181.23h-2.3" stroke="#6a6a6a" stroke-width="0.7" fill="none"/>
<text transform="translate(310.60 184.23) scale(0.9 1)" text-anchor="end" class="t">2</text>
<path d="M313.60 154.17h2.3M544.10 154.17h-2.3" stroke="#6a6a6a" stroke-width="0.7" fill="none"/>
<text transform="translate(310.60 157.17) scale(0.9 1)" text-anchor="end" class="t">4</text>
<path d="M313.60 127.10h2.3M544.10 127.10h-2.3" stroke="#6a6a6a" stroke-width="0.7" fill="none"/>
<text transform="translate(310.60 130.10) scale(0.9 1)" text-anchor="end" class="t">6</text>
<path d="M313.70 205.80l2.2 3.1l-2.2 3.1l-2.2 -3.1zM316.13 205.80l2.2 3.1l-2.2 3.1l-2.2 -3.1zM318.55 205.80l2.2 3.1l-2.2 3.1l-2.2 -3.1zM320.98 205.80l2.2 3.1l-2.2 3.1l-2.2 -3.1zM323.41 205.80l2.2 3.1l-2.2 3.1l-2.2 -3.1zM325.83 205.80l2.2 3.1l-2.2 3.1l-2.2 -3.1zM328.26 205.80l2.2 3.1l-2.2 3.1l-2.2 -3.1zM330.68 205.80l2.2 3.1l-2.2 3.1l-2.2 -3.1zM333.11 205.80l2.2 3.1l-2.2 3.1l-2.2 -3.1zM335.54 205.80l2.2 3.1l-2.2 3.1l-2.2 -3.1zM337.96 205.80l2.2 3.1l-2.2 3.1l-2.2 -3.1zM340.39 205.80l2.2 3.1l-2.2 3.1l-2.2 -3.1zM342.82 205.80l2.2 3.1l-2.2 3.1l-2.2 -3.1zM345.24 205.80l2.2 3.1l-2.2 3.1l-2.2 -3.1zM347.67 205.80l2.2 3.1l-2.2 3.1l-2.2 -3.1zM350.09 205.80l2.2 3.1l-2.2 3.1l-2.2 -3.1zM352.52 205.80l2.2 3.1l-2.2 3.1l-2.2 -3.1zM354.95 205.80l2.2 3.1l-2.2 3.1l-2.2 -3.1zM357.37 205.80l2.2 3.1l-2.2 3.1l-2.2 -3.1zM359.80 205.80l2.2 3.1l-2.2 3.1l-2.2 -3.1zM362.23 205.80l2.2 3.1l-2.2 3.1l-2.2 -3.1zM364.65 205.80l2.2 3.1l-2.2 3.1l-2.2 -3.1zM367.08 205.80l2.2 3.1l-2.2 3.1l-2.2 -3.1zM369.51 205.80l2.2 3.1l-2.2 3.1l-2.2 -3.1zM371.93 192.17l2.2 3.1l-2.2 3.1l-2.2 -3.1zM374.36 205.80l2.2 3.1l-2.2 3.1l-2.2 -3.1zM376.78 205.80l2.2 3.1l-2.2 3.1l-2.2 -3.1zM379.21 205.80l2.2 3.1l-2.2 3.1l-2.2 -3.1zM381.64 192.17l2.2 3.1l-2.2 3.1l-2.2 -3.1zM384.06 205.80l2.2 3.1l-2.2 3.1l-2.2 -3.1zM386.49 205.80l2.2 3.1l-2.2 3.1l-2.2 -3.1zM388.92 205.80l2.2 3.1l-2.2 3.1l-2.2 -3.1zM391.34 205.80l2.2 3.1l-2.2 3.1l-2.2 -3.1zM393.77 205.80l2.2 3.1l-2.2 3.1l-2.2 -3.1zM396.19 205.80l2.2 3.1l-2.2 3.1l-2.2 -3.1zM398.62 205.80l2.2 3.1l-2.2 3.1l-2.2 -3.1zM401.05 205.80l2.2 3.1l-2.2 3.1l-2.2 -3.1zM403.47 205.80l2.2 3.1l-2.2 3.1l-2.2 -3.1zM405.90 205.80l2.2 3.1l-2.2 3.1l-2.2 -3.1zM408.33 205.80l2.2 3.1l-2.2 3.1l-2.2 -3.1zM410.75 205.80l2.2 3.1l-2.2 3.1l-2.2 -3.1zM413.18 192.17l2.2 3.1l-2.2 3.1l-2.2 -3.1zM415.61 205.80l2.2 3.1l-2.2 3.1l-2.2 -3.1zM418.03 205.80l2.2 3.1l-2.2 3.1l-2.2 -3.1zM420.46 192.17l2.2 3.1l-2.2 3.1l-2.2 -3.1zM422.88 205.80l2.2 3.1l-2.2 3.1l-2.2 -3.1zM425.31 205.80l2.2 3.1l-2.2 3.1l-2.2 -3.1zM427.74 192.17l2.2 3.1l-2.2 3.1l-2.2 -3.1zM430.16 205.80l2.2 3.1l-2.2 3.1l-2.2 -3.1zM432.59 205.80l2.2 3.1l-2.2 3.1l-2.2 -3.1zM435.02 205.80l2.2 3.1l-2.2 3.1l-2.2 -3.1zM437.44 205.80l2.2 3.1l-2.2 3.1l-2.2 -3.1zM439.87 205.80l2.2 3.1l-2.2 3.1l-2.2 -3.1zM442.29 205.80l2.2 3.1l-2.2 3.1l-2.2 -3.1zM444.72 205.80l2.2 3.1l-2.2 3.1l-2.2 -3.1zM447.15 205.80l2.2 3.1l-2.2 3.1l-2.2 -3.1zM449.57 205.80l2.2 3.1l-2.2 3.1l-2.2 -3.1zM452.00 205.80l2.2 3.1l-2.2 3.1l-2.2 -3.1zM454.43 205.80l2.2 3.1l-2.2 3.1l-2.2 -3.1zM456.85 192.17l2.2 3.1l-2.2 3.1l-2.2 -3.1zM459.28 205.80l2.2 3.1l-2.2 3.1l-2.2 -3.1zM461.71 205.80l2.2 3.1l-2.2 3.1l-2.2 -3.1zM464.13 205.80l2.2 3.1l-2.2 3.1l-2.2 -3.1zM466.56 192.17l2.2 3.1l-2.2 3.1l-2.2 -3.1zM468.98 205.80l2.2 3.1l-2.2 3.1l-2.2 -3.1zM471.41 205.80l2.2 3.1l-2.2 3.1l-2.2 -3.1zM473.84 205.80l2.2 3.1l-2.2 3.1l-2.2 -3.1zM476.26 205.80l2.2 3.1l-2.2 3.1l-2.2 -3.1zM478.69 205.80l2.2 3.1l-2.2 3.1l-2.2 -3.1zM481.12 205.80l2.2 3.1l-2.2 3.1l-2.2 -3.1zM483.54 205.80l2.2 3.1l-2.2 3.1l-2.2 -3.1zM485.97 192.17l2.2 3.1l-2.2 3.1l-2.2 -3.1zM488.39 205.80l2.2 3.1l-2.2 3.1l-2.2 -3.1zM490.82 205.80l2.2 3.1l-2.2 3.1l-2.2 -3.1zM493.25 205.80l2.2 3.1l-2.2 3.1l-2.2 -3.1zM495.67 192.17l2.2 3.1l-2.2 3.1l-2.2 -3.1zM498.10 178.53l2.2 3.1l-2.2 3.1l-2.2 -3.1zM500.53 205.80l2.2 3.1l-2.2 3.1l-2.2 -3.1zM502.95 205.80l2.2 3.1l-2.2 3.1l-2.2 -3.1zM505.38 192.17l2.2 3.1l-2.2 3.1l-2.2 -3.1zM507.81 205.80l2.2 3.1l-2.2 3.1l-2.2 -3.1zM510.23 205.80l2.2 3.1l-2.2 3.1l-2.2 -3.1zM512.66 205.80l2.2 3.1l-2.2 3.1l-2.2 -3.1zM515.08 192.17l2.2 3.1l-2.2 3.1l-2.2 -3.1zM517.51 205.80l2.2 3.1l-2.2 3.1l-2.2 -3.1zM519.94 205.80l2.2 3.1l-2.2 3.1l-2.2 -3.1zM522.36 205.80l2.2 3.1l-2.2 3.1l-2.2 -3.1zM524.79 205.80l2.2 3.1l-2.2 3.1l-2.2 -3.1zM527.22 205.80l2.2 3.1l-2.2 3.1l-2.2 -3.1zM529.64 205.80l2.2 3.1l-2.2 3.1l-2.2 -3.1zM532.07 192.17l2.2 3.1l-2.2 3.1l-2.2 -3.1zM534.49 178.53l2.2 3.1l-2.2 3.1l-2.2 -3.1zM536.92 164.90l2.2 3.1l-2.2 3.1l-2.2 -3.1zM539.35 151.27l2.2 3.1l-2.2 3.1l-2.2 -3.1zM541.77 137.63l2.2 3.1l-2.2 3.1l-2.2 -3.1zM544.20 124.00l2.2 3.1l-2.2 3.1l-2.2 -3.1z" fill="#fa0015" stroke="#0072BD" stroke-width="0.75" stroke-linejoin="miter"/>
<path d="M313.70 206.70l1.4 2.2l-1.4 2.2l-1.4 -2.2zM316.13 206.70l1.4 2.2l-1.4 2.2l-1.4 -2.2zM318.55 206.70l1.4 2.2l-1.4 2.2l-1.4 -2.2zM320.98 206.70l1.4 2.2l-1.4 2.2l-1.4 -2.2zM323.41 206.70l1.4 2.2l-1.4 2.2l-1.4 -2.2zM325.83 206.70l1.4 2.2l-1.4 2.2l-1.4 -2.2zM328.26 206.70l1.4 2.2l-1.4 2.2l-1.4 -2.2zM330.68 206.70l1.4 2.2l-1.4 2.2l-1.4 -2.2zM333.11 206.70l1.4 2.2l-1.4 2.2l-1.4 -2.2zM335.54 206.70l1.4 2.2l-1.4 2.2l-1.4 -2.2zM337.96 206.70l1.4 2.2l-1.4 2.2l-1.4 -2.2zM340.39 206.70l1.4 2.2l-1.4 2.2l-1.4 -2.2zM342.82 206.70l1.4 2.2l-1.4 2.2l-1.4 -2.2zM345.24 206.70l1.4 2.2l-1.4 2.2l-1.4 -2.2zM347.67 206.70l1.4 2.2l-1.4 2.2l-1.4 -2.2zM350.09 206.70l1.4 2.2l-1.4 2.2l-1.4 -2.2zM352.52 206.70l1.4 2.2l-1.4 2.2l-1.4 -2.2zM354.95 206.70l1.4 2.2l-1.4 2.2l-1.4 -2.2zM357.37 206.70l1.4 2.2l-1.4 2.2l-1.4 -2.2zM359.80 206.70l1.4 2.2l-1.4 2.2l-1.4 -2.2zM362.23 206.70l1.4 2.2l-1.4 2.2l-1.4 -2.2zM364.65 206.70l1.4 2.2l-1.4 2.2l-1.4 -2.2zM367.08 206.70l1.4 2.2l-1.4 2.2l-1.4 -2.2zM369.51 206.70l1.4 2.2l-1.4 2.2l-1.4 -2.2zM371.93 193.07l1.4 2.2l-1.4 2.2l-1.4 -2.2zM374.36 206.70l1.4 2.2l-1.4 2.2l-1.4 -2.2zM376.78 206.70l1.4 2.2l-1.4 2.2l-1.4 -2.2zM379.21 206.70l1.4 2.2l-1.4 2.2l-1.4 -2.2zM381.64 193.07l1.4 2.2l-1.4 2.2l-1.4 -2.2zM384.06 206.70l1.4 2.2l-1.4 2.2l-1.4 -2.2zM386.49 206.70l1.4 2.2l-1.4 2.2l-1.4 -2.2zM388.92 206.70l1.4 2.2l-1.4 2.2l-1.4 -2.2zM391.34 206.70l1.4 2.2l-1.4 2.2l-1.4 -2.2zM393.77 206.70l1.4 2.2l-1.4 2.2l-1.4 -2.2zM396.19 206.70l1.4 2.2l-1.4 2.2l-1.4 -2.2zM398.62 206.70l1.4 2.2l-1.4 2.2l-1.4 -2.2zM401.05 206.70l1.4 2.2l-1.4 2.2l-1.4 -2.2zM403.47 206.70l1.4 2.2l-1.4 2.2l-1.4 -2.2zM405.90 206.70l1.4 2.2l-1.4 2.2l-1.4 -2.2zM408.33 206.70l1.4 2.2l-1.4 2.2l-1.4 -2.2zM410.75 206.70l1.4 2.2l-1.4 2.2l-1.4 -2.2zM413.18 193.07l1.4 2.2l-1.4 2.2l-1.4 -2.2zM415.61 206.70l1.4 2.2l-1.4 2.2l-1.4 -2.2zM418.03 206.70l1.4 2.2l-1.4 2.2l-1.4 -2.2zM420.46 193.07l1.4 2.2l-1.4 2.2l-1.4 -2.2zM422.88 206.70l1.4 2.2l-1.4 2.2l-1.4 -2.2zM425.31 206.70l1.4 2.2l-1.4 2.2l-1.4 -2.2zM427.74 193.07l1.4 2.2l-1.4 2.2l-1.4 -2.2zM430.16 206.70l1.4 2.2l-1.4 2.2l-1.4 -2.2zM432.59 206.70l1.4 2.2l-1.4 2.2l-1.4 -2.2zM435.02 206.70l1.4 2.2l-1.4 2.2l-1.4 -2.2zM437.44 206.70l1.4 2.2l-1.4 2.2l-1.4 -2.2zM439.87 206.70l1.4 2.2l-1.4 2.2l-1.4 -2.2zM442.29 206.70l1.4 2.2l-1.4 2.2l-1.4 -2.2zM444.72 206.70l1.4 2.2l-1.4 2.2l-1.4 -2.2zM447.15 206.70l1.4 2.2l-1.4 2.2l-1.4 -2.2zM449.57 206.70l1.4 2.2l-1.4 2.2l-1.4 -2.2zM452.00 206.70l1.4 2.2l-1.4 2.2l-1.4 -2.2zM454.43 206.70l1.4 2.2l-1.4 2.2l-1.4 -2.2zM456.85 193.07l1.4 2.2l-1.4 2.2l-1.4 -2.2zM459.28 206.70l1.4 2.2l-1.4 2.2l-1.4 -2.2zM461.71 206.70l1.4 2.2l-1.4 2.2l-1.4 -2.2zM464.13 206.70l1.4 2.2l-1.4 2.2l-1.4 -2.2zM466.56 193.07l1.4 2.2l-1.4 2.2l-1.4 -2.2zM468.98 206.70l1.4 2.2l-1.4 2.2l-1.4 -2.2zM471.41 206.70l1.4 2.2l-1.4 2.2l-1.4 -2.2zM473.84 206.70l1.4 2.2l-1.4 2.2l-1.4 -2.2zM476.26 206.70l1.4 2.2l-1.4 2.2l-1.4 -2.2zM478.69 206.70l1.4 2.2l-1.4 2.2l-1.4 -2.2zM481.12 206.70l1.4 2.2l-1.4 2.2l-1.4 -2.2zM483.54 206.70l1.4 2.2l-1.4 2.2l-1.4 -2.2zM485.97 193.07l1.4 2.2l-1.4 2.2l-1.4 -2.2zM488.39 206.70l1.4 2.2l-1.4 2.2l-1.4 -2.2zM490.82 206.70l1.4 2.2l-1.4 2.2l-1.4 -2.2zM493.25 206.70l1.4 2.2l-1.4 2.2l-1.4 -2.2zM495.67 193.07l1.4 2.2l-1.4 2.2l-1.4 -2.2zM498.10 179.43l1.4 2.2l-1.4 2.2l-1.4 -2.2zM500.53 206.70l1.4 2.2l-1.4 2.2l-1.4 -2.2zM502.95 206.70l1.4 2.2l-1.4 2.2l-1.4 -2.2zM505.38 193.07l1.4 2.2l-1.4 2.2l-1.4 -2.2zM507.81 206.70l1.4 2.2l-1.4 2.2l-1.4 -2.2zM510.23 206.70l1.4 2.2l-1.4 2.2l-1.4 -2.2zM512.66 206.70l1.4 2.2l-1.4 2.2l-1.4 -2.2zM515.08 193.07l1.4 2.2l-1.4 2.2l-1.4 -2.2zM517.51 206.70l1.4 2.2l-1.4 2.2l-1.4 -2.2zM519.94 206.70l1.4 2.2l-1.4 2.2l-1.4 -2.2zM522.36 206.70l1.4 2.2l-1.4 2.2l-1.4 -2.2zM524.79 206.70l1.4 2.2l-1.4 2.2l-1.4 -2.2zM527.22 206.70l1.4 2.2l-1.4 2.2l-1.4 -2.2zM529.64 206.70l1.4 2.2l-1.4 2.2l-1.4 -2.2zM532.07 193.07l1.4 2.2l-1.4 2.2l-1.4 -2.2zM534.49 179.43l1.4 2.2l-1.4 2.2l-1.4 -2.2zM536.92 165.80l1.4 2.2l-1.4 2.2l-1.4 -2.2zM539.35 152.17l1.4 2.2l-1.4 2.2l-1.4 -2.2zM541.77 138.53l1.4 2.2l-1.4 2.2l-1.4 -2.2zM544.20 124.90l1.4 2.2l-1.4 2.2l-1.4 -2.2z" fill="#fa0015" fill-opacity="0.4"/>
<text x="429.00" y="124.30" text-anchor="middle" class="b">Validation Checks = 6, at epoch 95</text>
<text transform="translate(304.60 168.00) rotate(-90) scale(1.08 1)" text-anchor="middle" class="l">val fail</text>
<text transform="translate(429.5 228.3) scale(0.95 1)" text-anchor="middle" class="l">95 Epochs</text>
<text x="413.5" y="248.7" text-anchor="middle" class="s">b.</text>
<rect x="27.50" y="268.50" width="231.00" height="81.00" fill="none" stroke="#808080" stroke-width="0.9"/>
<path d="M27.60 349.50v-2.5M27.60 268.50v2.5" stroke="#6a6a6a" stroke-width="0.7" fill="none"/>
<path d="M66.37 349.50v-2.5M66.37 268.50v2.5" stroke="#6a6a6a" stroke-width="0.7" fill="none"/>
<path d="M105.15 349.50v-2.5M105.15 268.50v2.5" stroke="#6a6a6a" stroke-width="0.7" fill="none"/>
<path d="M143.92 349.50v-2.5M143.92 268.50v2.5" stroke="#6a6a6a" stroke-width="0.7" fill="none"/>
<path d="M182.69 349.50v-2.5M182.69 268.50v2.5" stroke="#6a6a6a" stroke-width="0.7" fill="none"/>
<path d="M221.47 349.50v-2.5M221.47 268.50v2.5" stroke="#6a6a6a" stroke-width="0.7" fill="none"/>
<path d="M27.60 270.90h2.3M258.30 270.90h-2.3" stroke="#6a6a6a" stroke-width="0.7" fill="none"/>
<text transform="translate(25.30 275.20) scale(0.9 1)" text-anchor="end" class="t">10<tspan dy="-3.3" font-size="5">0</tspan></text>
<path d="M27.60 310.00h2.3M258.30 310.00h-2.3" stroke="#6a6a6a" stroke-width="0.7" fill="none"/>
<text transform="translate(25.30 314.30) scale(0.9 1)" text-anchor="end" class="t">10<tspan dy="-3.3" font-size="5">-1</tspan></text>
<path d="M27.60 349.10h2.3M258.30 349.10h-2.3" stroke="#6a6a6a" stroke-width="0.7" fill="none"/>
<text transform="translate(25.30 353.40) scale(0.9 1)" text-anchor="end" class="t">10<tspan dy="-3.3" font-size="5">-2</tspan></text>
<path d="M27.60 298.23h1.2M258.30 298.23h-1.2" stroke="#6a6a6a" stroke-width="0.5" fill="none"/>
<path d="M27.60 291.34h1.2M258.30 291.34h-1.2" stroke="#6a6a6a" stroke-width="0.5" fill="none"/>
<path d="M27.60 286.46h1.2M258.30 286.46h-1.2" stroke="#6a6a6a" stroke-width="0.5" fill="none"/>
<path d="M27.60 282.67h1.2M258.30 282.67h-1.2" stroke="#6a6a6a" stroke-width="0.5" fill="none"/>
<path d="M27.60 279.57h1.2M258.30 279.57h-1.2" stroke="#6a6a6a" stroke-width="0.5" fill="none"/>
<path d="M27.60 276.96h1.2M258.30 276.96h-1.2" stroke="#6a6a6a" stroke-width="0.5" fill="none"/>
<path d="M27.60 274.69h1.2M258.30 274.69h-1.2" stroke="#6a6a6a" stroke-width="0.5" fill="none"/>
<path d="M27.60 272.69h1.2M258.30 272.69h-1.2" stroke="#6a6a6a" stroke-width="0.5" fill="none"/>
<path d="M27.60 337.33h1.2M258.30 337.33h-1.2" stroke="#6a6a6a" stroke-width="0.5" fill="none"/>
<path d="M27.60 330.44h1.2M258.30 330.44h-1.2" stroke="#6a6a6a" stroke-width="0.5" fill="none"/>
<path d="M27.60 325.56h1.2M258.30 325.56h-1.2" stroke="#6a6a6a" stroke-width="0.5" fill="none"/>
<path d="M27.60 321.77h1.2M258.30 321.77h-1.2" stroke="#6a6a6a" stroke-width="0.5" fill="none"/>
<path d="M27.60 318.67h1.2M258.30 318.67h-1.2" stroke="#6a6a6a" stroke-width="0.5" fill="none"/>
<path d="M27.60 316.06h1.2M258.30 316.06h-1.2" stroke="#6a6a6a" stroke-width="0.5" fill="none"/>
<path d="M27.60 313.79h1.2M258.30 313.79h-1.2" stroke="#6a6a6a" stroke-width="0.5" fill="none"/>
<path d="M27.60 311.79h1.2M258.30 311.79h-1.2" stroke="#6a6a6a" stroke-width="0.5" fill="none"/>
<text x="143.00" y="265.60" text-anchor="middle" class="b">Gradient = 0.02963, at epoch 119</text>
<text transform="translate(10.60 309.20) rotate(-90) scale(1.08 1)" text-anchor="middle" class="l">gradient</text>
<path d="M27.49 269.11 L29.24 278.71 L31.33 284.82 L33.25 281.32 L35.87 290.05 L38.83 296.16 L41.10 300.52 L42.85 297.90 L44.59 297.90 L46.34 304.01 L48.43 308.72 L50.70 305.23 L52.80 308.72 L55.06 312.74 L56.81 312.74 L58.90 306.98 L62.74 318.50 L65.01 316.23 L67.98 309.77 L70.25 319.72 L71.99 322.69 L75.83 309.77 L79.85 326.70 L83.69 311.87 L87.18 323.21 L88.92 321.46 L91.71 316.75 L94.82 323.21 L98.83 312.74 L102.85 322.34 L106.34 314.48 L110.18 323.73 L113.67 311.87 L117.16 325.48 L120.65 313.61 L124.49 323.21 L128.50 316.23 L131.12 322.34 L134.26 313.26 L138.10 324.95 L141.59 317.10 L145.43 326.70 L148.92 320.59 L152.06 327.92 L153.60 318.50 L155.87 324.95 L157.96 324.08 L160.58 325.83 L163.20 328.97 L165.82 323.21 L167.56 327.22 L171.05 321.46 L172.80 332.81 L175.06 326.70 L177.16 327.57 L180.65 324.08 L183.27 329.32 L186.23 323.21 L189.03 330.19 L191.99 322.34 L194.61 337.17 L196.36 324.08 L198.45 333.68 L201.59 329.32 L205.43 337.17 L208.57 328.97 L211.19 331.94 L214.31 329.32 L217.45 336.30 L219.55 329.32 L221.82 337.69 L224.08 328.97 L226.53 336.30 L228.80 330.19 L231.06 335.95 L232.81 328.97 L235.78 338.04 L237.52 331.94 L240.49 338.92 L242.76 330.19 L245.38 336.30 L247.99 332.81 L250.61 335.43 L253.23 331.94 L255.85 337.17 L258.12 331.94" fill="none" stroke="#0072BD" stroke-width="1.7" stroke-linejoin="round" stroke-linecap="round"/>
<rect x="27.50" y="382.50" width="231.00" height="81.00" fill="none" stroke="#808080" stroke-width="0.9"/>
<path d="M27.60 463.50v-2.5M27.60 382.50v2.5" stroke="#6a6a6a" stroke-width="0.7" fill="none"/>
<text transform="translate(27.60 474.20) scale(0.9 1)" text-anchor="middle" class="t">0</text>
<path d="M66.37 463.50v-2.5M66.37 382.50v2.5" stroke="#6a6a6a" stroke-width="0.7" fill="none"/>
<text transform="translate(66.37 474.20) scale(0.9 1)" text-anchor="middle" class="t">20</text>
<path d="M105.15 463.50v-2.5M105.15 382.50v2.5" stroke="#6a6a6a" stroke-width="0.7" fill="none"/>
<text transform="translate(105.15 474.20) scale(0.9 1)" text-anchor="middle" class="t">40</text>
<path d="M143.92 463.50v-2.5M143.92 382.50v2.5" stroke="#6a6a6a" stroke-width="0.7" fill="none"/>
<text transform="translate(143.92 474.20) scale(0.9 1)" text-anchor="middle" class="t">60</text>
<path d="M182.69 463.50v-2.5M182.69 382.50v2.5" stroke="#6a6a6a" stroke-width="0.7" fill="none"/>
<text transform="translate(182.69 474.20) scale(0.9 1)" text-anchor="middle" class="t">80</text>
<path d="M221.47 463.50v-2.5M221.47 382.50v2.5" stroke="#6a6a6a" stroke-width="0.7" fill="none"/>
<text transform="translate(221.47 474.20) scale(0.9 1)" text-anchor="middle" class="t">100</text>
<path d="M27.60 463.30h2.3M258.30 463.30h-2.3" stroke="#6a6a6a" stroke-width="0.7" fill="none"/>
<text transform="translate(24.60 466.30) scale(0.9 1)" text-anchor="end" class="t">0</text>
<path d="M27.60 436.37h2.3M258.30 436.37h-2.3" stroke="#6a6a6a" stroke-width="0.7" fill="none"/>
<text transform="translate(24.60 439.37) scale(0.9 1)" text-anchor="end" class="t">2</text>
<path d="M27.60 409.43h2.3M258.30 409.43h-2.3" stroke="#6a6a6a" stroke-width="0.7" fill="none"/>
<text transform="translate(24.60 412.43) scale(0.9 1)" text-anchor="end" class="t">4</text>
<path d="M27.60 382.50h2.3M258.30 382.50h-2.3" stroke="#6a6a6a" stroke-width="0.7" fill="none"/>
<text transform="translate(24.60 385.50) scale(0.9 1)" text-anchor="end" class="t">6</text>
<path d="M27.70 460.80l2.2 3.1l-2.2 3.1l-2.2 -3.1zM29.64 460.80l2.2 3.1l-2.2 3.1l-2.2 -3.1zM31.58 460.80l2.2 3.1l-2.2 3.1l-2.2 -3.1zM33.52 460.80l2.2 3.1l-2.2 3.1l-2.2 -3.1zM35.45 460.80l2.2 3.1l-2.2 3.1l-2.2 -3.1zM37.39 460.80l2.2 3.1l-2.2 3.1l-2.2 -3.1zM39.33 460.80l2.2 3.1l-2.2 3.1l-2.2 -3.1zM41.27 460.80l2.2 3.1l-2.2 3.1l-2.2 -3.1zM43.21 460.80l2.2 3.1l-2.2 3.1l-2.2 -3.1zM45.15 460.80l2.2 3.1l-2.2 3.1l-2.2 -3.1zM47.09 460.80l2.2 3.1l-2.2 3.1l-2.2 -3.1zM49.03 460.80l2.2 3.1l-2.2 3.1l-2.2 -3.1zM50.96 460.80l2.2 3.1l-2.2 3.1l-2.2 -3.1zM52.90 460.80l2.2 3.1l-2.2 3.1l-2.2 -3.1zM54.84 460.80l2.2 3.1l-2.2 3.1l-2.2 -3.1zM56.78 460.80l2.2 3.1l-2.2 3.1l-2.2 -3.1zM58.72 460.80l2.2 3.1l-2.2 3.1l-2.2 -3.1zM60.66 460.80l2.2 3.1l-2.2 3.1l-2.2 -3.1zM62.60 460.80l2.2 3.1l-2.2 3.1l-2.2 -3.1zM64.53 460.80l2.2 3.1l-2.2 3.1l-2.2 -3.1zM66.47 460.80l2.2 3.1l-2.2 3.1l-2.2 -3.1zM68.41 460.80l2.2 3.1l-2.2 3.1l-2.2 -3.1zM70.35 460.80l2.2 3.1l-2.2 3.1l-2.2 -3.1zM72.29 460.80l2.2 3.1l-2.2 3.1l-2.2 -3.1zM74.23 460.80l2.2 3.1l-2.2 3.1l-2.2 -3.1zM76.17 460.80l2.2 3.1l-2.2 3.1l-2.2 -3.1zM78.11 460.80l2.2 3.1l-2.2 3.1l-2.2 -3.1zM80.04 460.80l2.2 3.1l-2.2 3.1l-2.2 -3.1zM81.98 460.80l2.2 3.1l-2.2 3.1l-2.2 -3.1zM83.92 460.80l2.2 3.1l-2.2 3.1l-2.2 -3.1zM85.86 460.80l2.2 3.1l-2.2 3.1l-2.2 -3.1zM87.80 460.80l2.2 3.1l-2.2 3.1l-2.2 -3.1zM89.74 447.23l2.2 3.1l-2.2 3.1l-2.2 -3.1zM91.68 460.80l2.2 3.1l-2.2 3.1l-2.2 -3.1zM93.61 460.80l2.2 3.1l-2.2 3.1l-2.2 -3.1zM95.55 447.23l2.2 3.1l-2.2 3.1l-2.2 -3.1zM97.49 460.80l2.2 3.1l-2.2 3.1l-2.2 -3.1zM99.43 460.80l2.2 3.1l-2.2 3.1l-2.2 -3.1zM101.37 460.80l2.2 3.1l-2.2 3.1l-2.2 -3.1zM103.31 460.80l2.2 3.1l-2.2 3.1l-2.2 -3.1zM105.25 460.80l2.2 3.1l-2.2 3.1l-2.2 -3.1zM107.18 460.80l2.2 3.1l-2.2 3.1l-2.2 -3.1zM109.12 460.80l2.2 3.1l-2.2 3.1l-2.2 -3.1zM111.06 460.80l2.2 3.1l-2.2 3.1l-2.2 -3.1zM113.00 460.80l2.2 3.1l-2.2 3.1l-2.2 -3.1zM114.94 460.80l2.2 3.1l-2.2 3.1l-2.2 -3.1zM116.88 460.80l2.2 3.1l-2.2 3.1l-2.2 -3.1zM118.82 460.80l2.2 3.1l-2.2 3.1l-2.2 -3.1zM120.76 460.80l2.2 3.1l-2.2 3.1l-2.2 -3.1zM122.69 460.80l2.2 3.1l-2.2 3.1l-2.2 -3.1zM124.63 460.80l2.2 3.1l-2.2 3.1l-2.2 -3.1zM126.57 447.23l2.2 3.1l-2.2 3.1l-2.2 -3.1zM128.51 460.80l2.2 3.1l-2.2 3.1l-2.2 -3.1zM130.45 460.80l2.2 3.1l-2.2 3.1l-2.2 -3.1zM132.39 460.80l2.2 3.1l-2.2 3.1l-2.2 -3.1zM134.33 460.80l2.2 3.1l-2.2 3.1l-2.2 -3.1zM136.26 460.80l2.2 3.1l-2.2 3.1l-2.2 -3.1zM138.20 460.80l2.2 3.1l-2.2 3.1l-2.2 -3.1zM140.14 460.80l2.2 3.1l-2.2 3.1l-2.2 -3.1zM142.08 460.80l2.2 3.1l-2.2 3.1l-2.2 -3.1zM144.02 460.80l2.2 3.1l-2.2 3.1l-2.2 -3.1zM145.96 447.23l2.2 3.1l-2.2 3.1l-2.2 -3.1zM147.90 460.80l2.2 3.1l-2.2 3.1l-2.2 -3.1zM149.84 460.80l2.2 3.1l-2.2 3.1l-2.2 -3.1zM151.77 447.23l2.2 3.1l-2.2 3.1l-2.2 -3.1zM153.71 460.80l2.2 3.1l-2.2 3.1l-2.2 -3.1zM155.65 460.80l2.2 3.1l-2.2 3.1l-2.2 -3.1zM157.59 447.23l2.2 3.1l-2.2 3.1l-2.2 -3.1zM159.53 433.67l2.2 3.1l-2.2 3.1l-2.2 -3.1zM161.47 460.80l2.2 3.1l-2.2 3.1l-2.2 -3.1zM163.41 447.23l2.2 3.1l-2.2 3.1l-2.2 -3.1zM165.34 433.67l2.2 3.1l-2.2 3.1l-2.2 -3.1zM167.28 460.80l2.2 3.1l-2.2 3.1l-2.2 -3.1zM169.22 460.80l2.2 3.1l-2.2 3.1l-2.2 -3.1zM171.16 460.80l2.2 3.1l-2.2 3.1l-2.2 -3.1zM173.10 460.80l2.2 3.1l-2.2 3.1l-2.2 -3.1zM175.04 447.23l2.2 3.1l-2.2 3.1l-2.2 -3.1zM176.98 433.67l2.2 3.1l-2.2 3.1l-2.2 -3.1zM178.92 460.80l2.2 3.1l-2.2 3.1l-2.2 -3.1zM180.85 447.23l2.2 3.1l-2.2 3.1l-2.2 -3.1zM182.79 460.80l2.2 3.1l-2.2 3.1l-2.2 -3.1zM184.73 460.80l2.2 3.1l-2.2 3.1l-2.2 -3.1zM186.67 460.80l2.2 3.1l-2.2 3.1l-2.2 -3.1zM188.61 460.80l2.2 3.1l-2.2 3.1l-2.2 -3.1zM190.55 447.23l2.2 3.1l-2.2 3.1l-2.2 -3.1zM192.49 460.80l2.2 3.1l-2.2 3.1l-2.2 -3.1zM194.42 460.80l2.2 3.1l-2.2 3.1l-2.2 -3.1zM196.36 460.80l2.2 3.1l-2.2 3.1l-2.2 -3.1zM198.30 460.80l2.2 3.1l-2.2 3.1l-2.2 -3.1zM200.24 447.23l2.2 3.1l-2.2 3.1l-2.2 -3.1zM202.18 433.67l2.2 3.1l-2.2 3.1l-2.2 -3.1zM204.12 460.80l2.2 3.1l-2.2 3.1l-2.2 -3.1zM206.06 460.80l2.2 3.1l-2.2 3.1l-2.2 -3.1zM207.99 460.80l2.2 3.1l-2.2 3.1l-2.2 -3.1zM209.93 460.80l2.2 3.1l-2.2 3.1l-2.2 -3.1zM211.87 460.80l2.2 3.1l-2.2 3.1l-2.2 -3.1zM213.81 447.23l2.2 3.1l-2.2 3.1l-2.2 -3.1zM215.75 433.67l2.2 3.1l-2.2 3.1l-2.2 -3.1zM217.69 420.10l2.2 3.1l-2.2 3.1l-2.2 -3.1zM219.63 460.80l2.2 3.1l-2.2 3.1l-2.2 -3.1zM221.57 460.80l2.2 3.1l-2.2 3.1l-2.2 -3.1zM223.50 460.80l2.2 3.1l-2.2 3.1l-2.2 -3.1zM225.44 460.80l2.2 3.1l-2.2 3.1l-2.2 -3.1zM227.38 460.80l2.2 3.1l-2.2 3.1l-2.2 -3.1zM229.32 460.80l2.2 3.1l-2.2 3.1l-2.2 -3.1zM231.26 460.80l2.2 3.1l-2.2 3.1l-2.2 -3.1zM233.20 460.80l2.2 3.1l-2.2 3.1l-2.2 -3.1zM235.14 447.23l2.2 3.1l-2.2 3.1l-2.2 -3.1zM237.07 433.67l2.2 3.1l-2.2 3.1l-2.2 -3.1zM239.01 420.10l2.2 3.1l-2.2 3.1l-2.2 -3.1zM240.95 406.53l2.2 3.1l-2.2 3.1l-2.2 -3.1zM242.89 392.97l2.2 3.1l-2.2 3.1l-2.2 -3.1zM244.83 460.80l2.2 3.1l-2.2 3.1l-2.2 -3.1zM246.77 460.80l2.2 3.1l-2.2 3.1l-2.2 -3.1zM248.71 447.23l2.2 3.1l-2.2 3.1l-2.2 -3.1zM250.65 433.67l2.2 3.1l-2.2 3.1l-2.2 -3.1zM252.58 420.10l2.2 3.1l-2.2 3.1l-2.2 -3.1zM254.52 406.53l2.2 3.1l-2.2 3.1l-2.2 -3.1zM256.46 392.97l2.2 3.1l-2.2 3.1l-2.2 -3.1zM258.40 379.40l2.2 3.1l-2.2 3.1l-2.2 -3.1z" fill="#fa0015" stroke="#0072BD" stroke-width="0.75" stroke-linejoin="miter"/>
<path d="M27.70 461.70l1.4 2.2l-1.4 2.2l-1.4 -2.2zM29.64 461.70l1.4 2.2l-1.4 2.2l-1.4 -2.2zM31.58 461.70l1.4 2.2l-1.4 2.2l-1.4 -2.2zM33.52 461.70l1.4 2.2l-1.4 2.2l-1.4 -2.2zM35.45 461.70l1.4 2.2l-1.4 2.2l-1.4 -2.2zM37.39 461.70l1.4 2.2l-1.4 2.2l-1.4 -2.2zM39.33 461.70l1.4 2.2l-1.4 2.2l-1.4 -2.2zM41.27 461.70l1.4 2.2l-1.4 2.2l-1.4 -2.2zM43.21 461.70l1.4 2.2l-1.4 2.2l-1.4 -2.2zM45.15 461.70l1.4 2.2l-1.4 2.2l-1.4 -2.2zM47.09 461.70l1.4 2.2l-1.4 2.2l-1.4 -2.2zM49.03 461.70l1.4 2.2l-1.4 2.2l-1.4 -2.2zM50.96 461.70l1.4 2.2l-1.4 2.2l-1.4 -2.2zM52.90 461.70l1.4 2.2l-1.4 2.2l-1.4 -2.2zM54.84 461.70l1.4 2.2l-1.4 2.2l-1.4 -2.2zM56.78 461.70l1.4 2.2l-1.4 2.2l-1.4 -2.2zM58.72 461.70l1.4 2.2l-1.4 2.2l-1.4 -2.2zM60.66 461.70l1.4 2.2l-1.4 2.2l-1.4 -2.2zM62.60 461.70l1.4 2.2l-1.4 2.2l-1.4 -2.2zM64.53 461.70l1.4 2.2l-1.4 2.2l-1.4 -2.2zM66.47 461.70l1.4 2.2l-1.4 2.2l-1.4 -2.2zM68.41 461.70l1.4 2.2l-1.4 2.2l-1.4 -2.2zM70.35 461.70l1.4 2.2l-1.4 2.2l-1.4 -2.2zM72.29 461.70l1.4 2.2l-1.4 2.2l-1.4 -2.2zM74.23 461.70l1.4 2.2l-1.4 2.2l-1.4 -2.2zM76.17 461.70l1.4 2.2l-1.4 2.2l-1.4 -2.2zM78.11 461.70l1.4 2.2l-1.4 2.2l-1.4 -2.2zM80.04 461.70l1.4 2.2l-1.4 2.2l-1.4 -2.2zM81.98 461.70l1.4 2.2l-1.4 2.2l-1.4 -2.2zM83.92 461.70l1.4 2.2l-1.4 2.2l-1.4 -2.2zM85.86 461.70l1.4 2.2l-1.4 2.2l-1.4 -2.2zM87.80 461.70l1.4 2.2l-1.4 2.2l-1.4 -2.2zM89.74 448.13l1.4 2.2l-1.4 2.2l-1.4 -2.2zM91.68 461.70l1.4 2.2l-1.4 2.2l-1.4 -2.2zM93.61 461.70l1.4 2.2l-1.4 2.2l-1.4 -2.2zM95.55 448.13l1.4 2.2l-1.4 2.2l-1.4 -2.2zM97.49 461.70l1.4 2.2l-1.4 2.2l-1.4 -2.2zM99.43 461.70l1.4 2.2l-1.4 2.2l-1.4 -2.2zM101.37 461.70l1.4 2.2l-1.4 2.2l-1.4 -2.2zM103.31 461.70l1.4 2.2l-1.4 2.2l-1.4 -2.2zM105.25 461.70l1.4 2.2l-1.4 2.2l-1.4 -2.2zM107.18 461.70l1.4 2.2l-1.4 2.2l-1.4 -2.2zM109.12 461.70l1.4 2.2l-1.4 2.2l-1.4 -2.2zM111.06 461.70l1.4 2.2l-1.4 2.2l-1.4 -2.2zM113.00 461.70l1.4 2.2l-1.4 2.2l-1.4 -2.2zM114.94 461.70l1.4 2.2l-1.4 2.2l-1.4 -2.2zM116.88 461.70l1.4 2.2l-1.4 2.2l-1.4 -2.2zM118.82 461.70l1.4 2.2l-1.4 2.2l-1.4 -2.2zM120.76 461.70l1.4 2.2l-1.4 2.2l-1.4 -2.2zM122.69 461.70l1.4 2.2l-1.4 2.2l-1.4 -2.2zM124.63 461.70l1.4 2.2l-1.4 2.2l-1.4 -2.2zM126.57 448.13l1.4 2.2l-1.4 2.2l-1.4 -2.2zM128.51 461.70l1.4 2.2l-1.4 2.2l-1.4 -2.2zM130.45 461.70l1.4 2.2l-1.4 2.2l-1.4 -2.2zM132.39 461.70l1.4 2.2l-1.4 2.2l-1.4 -2.2zM134.33 461.70l1.4 2.2l-1.4 2.2l-1.4 -2.2zM136.26 461.70l1.4 2.2l-1.4 2.2l-1.4 -2.2zM138.20 461.70l1.4 2.2l-1.4 2.2l-1.4 -2.2zM140.14 461.70l1.4 2.2l-1.4 2.2l-1.4 -2.2zM142.08 461.70l1.4 2.2l-1.4 2.2l-1.4 -2.2zM144.02 461.70l1.4 2.2l-1.4 2.2l-1.4 -2.2zM145.96 448.13l1.4 2.2l-1.4 2.2l-1.4 -2.2zM147.90 461.70l1.4 2.2l-1.4 2.2l-1.4 -2.2zM149.84 461.70l1.4 2.2l-1.4 2.2l-1.4 -2.2zM151.77 448.13l1.4 2.2l-1.4 2.2l-1.4 -2.2zM153.71 461.70l1.4 2.2l-1.4 2.2l-1.4 -2.2zM155.65 461.70l1.4 2.2l-1.4 2.2l-1.4 -2.2zM157.59 448.13l1.4 2.2l-1.4 2.2l-1.4 -2.2zM159.53 434.57l1.4 2.2l-1.4 2.2l-1.4 -2.2zM161.47 461.70l1.4 2.2l-1.4 2.2l-1.4 -2.2zM163.41 448.13l1.4 2.2l-1.4 2.2l-1.4 -2.2zM165.34 434.57l1.4 2.2l-1.4 2.2l-1.4 -2.2zM167.28 461.70l1.4 2.2l-1.4 2.2l-1.4 -2.2zM169.22 461.70l1.4 2.2l-1.4 2.2l-1.4 -2.2zM171.16 461.70l1.4 2.2l-1.4 2.2l-1.4 -2.2zM173.10 461.70l1.4 2.2l-1.4 2.2l-1.4 -2.2zM175.04 448.13l1.4 2.2l-1.4 2.2l-1.4 -2.2zM176.98 434.57l1.4 2.2l-1.4 2.2l-1.4 -2.2zM178.92 461.70l1.4 2.2l-1.4 2.2l-1.4 -2.2zM180.85 448.13l1.4 2.2l-1.4 2.2l-1.4 -2.2zM182.79 461.70l1.4 2.2l-1.4 2.2l-1.4 -2.2zM184.73 461.70l1.4 2.2l-1.4 2.2l-1.4 -2.2zM186.67 461.70l1.4 2.2l-1.4 2.2l-1.4 -2.2zM188.61 461.70l1.4 2.2l-1.4 2.2l-1.4 -2.2zM190.55 448.13l1.4 2.2l-1.4 2.2l-1.4 -2.2zM192.49 461.70l1.4 2.2l-1.4 2.2l-1.4 -2.2zM194.42 461.70l1.4 2.2l-1.4 2.2l-1.4 -2.2zM196.36 461.70l1.4 2.2l-1.4 2.2l-1.4 -2.2zM198.30 461.70l1.4 2.2l-1.4 2.2l-1.4 -2.2zM200.24 448.13l1.4 2.2l-1.4 2.2l-1.4 -2.2zM202.18 434.57l1.4 2.2l-1.4 2.2l-1.4 -2.2zM204.12 461.70l1.4 2.2l-1.4 2.2l-1.4 -2.2zM206.06 461.70l1.4 2.2l-1.4 2.2l-1.4 -2.2zM207.99 461.70l1.4 2.2l-1.4 2.2l-1.4 -2.2zM209.93 461.70l1.4 2.2l-1.4 2.2l-1.4 -2.2zM211.87 461.70l1.4 2.2l-1.4 2.2l-1.4 -2.2zM213.81 448.13l1.4 2.2l-1.4 2.2l-1.4 -2.2zM215.75 434.57l1.4 2.2l-1.4 2.2l-1.4 -2.2zM217.69 421.00l1.4 2.2l-1.4 2.2l-1.4 -2.2zM219.63 461.70l1.4 2.2l-1.4 2.2l-1.4 -2.2zM221.57 461.70l1.4 2.2l-1.4 2.2l-1.4 -2.2zM223.50 461.70l1.4 2.2l-1.4 2.2l-1.4 -2.2zM225.44 461.70l1.4 2.2l-1.4 2.2l-1.4 -2.2zM227.38 461.70l1.4 2.2l-1.4 2.2l-1.4 -2.2zM229.32 461.70l1.4 2.2l-1.4 2.2l-1.4 -2.2zM231.26 461.70l1.4 2.2l-1.4 2.2l-1.4 -2.2zM233.20 461.70l1.4 2.2l-1.4 2.2l-1.4 -2.2zM235.14 448.13l1.4 2.2l-1.4 2.2l-1.4 -2.2zM237.07 434.57l1.4 2.2l-1.4 2.2l-1.4 -2.2zM239.01 421.00l1.4 2.2l-1.4 2.2l-1.4 -2.2zM240.95 407.43l1.4 2.2l-1.4 2.2l-1.4 -2.2zM242.89 393.87l1.4 2.2l-1.4 2.2l-1.4 -2.2zM244.83 461.70l1.4 2.2l-1.4 2.2l-1.4 -2.2zM246.77 461.70l1.4 2.2l-1.4 2.2l-1.4 -2.2zM248.71 448.13l1.4 2.2l-1.4 2.2l-1.4 -2.2zM250.65 434.57l1.4 2.2l-1.4 2.2l-1.4 -2.2zM252.58 421.00l1.4 2.2l-1.4 2.2l-1.4 -2.2zM254.52 407.43l1.4 2.2l-1.4 2.2l-1.4 -2.2zM256.46 393.87l1.4 2.2l-1.4 2.2l-1.4 -2.2zM258.40 380.30l1.4 2.2l-1.4 2.2l-1.4 -2.2z" fill="#fa0015" fill-opacity="0.4"/>
<text x="143.00" y="378.90" text-anchor="middle" class="b">Validation Checks = 6, at epoch 119</text>
<text transform="translate(19.10 423.20) rotate(-90) scale(1.08 1)" text-anchor="middle" class="l">val fail</text>
<text transform="translate(143.5 483.5) scale(0.95 1)" text-anchor="middle" class="l">119 Epochs</text>
<text x="135.5" y="505.2" text-anchor="middle" class="s">c.</text>
<rect x="307.50" y="271.50" width="231.00" height="81.00" fill="none" stroke="#808080" stroke-width="0.9"/>
<path d="M307.90 352.50v-2.5M307.90 271.50v2.5" stroke="#6a6a6a" stroke-width="0.7" fill="none"/>
<path d="M329.44 352.50v-2.5M329.44 271.50v2.5" stroke="#6a6a6a" stroke-width="0.7" fill="none"/>
<path d="M350.98 352.50v-2.5M350.98 271.50v2.5" stroke="#6a6a6a" stroke-width="0.7" fill="none"/>
<path d="M372.53 352.50v-2.5M372.53 271.50v2.5" stroke="#6a6a6a" stroke-width="0.7" fill="none"/>
<path d="M394.07 352.50v-2.5M394.07 271.50v2.5" stroke="#6a6a6a" stroke-width="0.7" fill="none"/>
<path d="M415.61 352.50v-2.5M415.61 271.50v2.5" stroke="#6a6a6a" stroke-width="0.7" fill="none"/>
<path d="M437.15 352.50v-2.5M437.15 271.50v2.5" stroke="#6a6a6a" stroke-width="0.7" fill="none"/>
<path d="M458.69 352.50v-2.5M458.69 271.50v2.5" stroke="#6a6a6a" stroke-width="0.7" fill="none"/>
<path d="M480.24 352.50v-2.5M480.24 271.50v2.5" stroke="#6a6a6a" stroke-width="0.7" fill="none"/>
<path d="M501.78 352.50v-2.5M501.78 271.50v2.5" stroke="#6a6a6a" stroke-width="0.7" fill="none"/>
<path d="M523.32 352.50v-2.5M523.32 271.50v2.5" stroke="#6a6a6a" stroke-width="0.7" fill="none"/>
<path d="M307.90 301.80h2.3M538.40 301.80h-2.3" stroke="#6a6a6a" stroke-width="0.7" fill="none"/>
<text transform="translate(305.60 306.10) scale(0.9 1)" text-anchor="end" class="t">10<tspan dy="-3.3" font-size="5">-1</tspan></text>
<path d="M307.90 352.80h2.3M538.40 352.80h-2.3" stroke="#6a6a6a" stroke-width="0.7" fill="none"/>
<text transform="translate(305.60 357.10) scale(0.9 1)" text-anchor="end" class="t">10<tspan dy="-3.3" font-size="5">-2</tspan></text>
<path d="M307.90 286.45h1.2M538.40 286.45h-1.2" stroke="#6a6a6a" stroke-width="0.5" fill="none"/>
<path d="M307.90 277.47h1.2M538.40 277.47h-1.2" stroke="#6a6a6a" stroke-width="0.5" fill="none"/>
<path d="M307.90 337.45h1.2M538.40 337.45h-1.2" stroke="#6a6a6a" stroke-width="0.5" fill="none"/>
<path d="M307.90 328.47h1.2M538.40 328.47h-1.2" stroke="#6a6a6a" stroke-width="0.5" fill="none"/>
<path d="M307.90 322.09h1.2M538.40 322.09h-1.2" stroke="#6a6a6a" stroke-width="0.5" fill="none"/>
<path d="M307.90 317.15h1.2M538.40 317.15h-1.2" stroke="#6a6a6a" stroke-width="0.5" fill="none"/>
<path d="M307.90 313.11h1.2M538.40 313.11h-1.2" stroke="#6a6a6a" stroke-width="0.5" fill="none"/>
<path d="M307.90 309.70h1.2M538.40 309.70h-1.2" stroke="#6a6a6a" stroke-width="0.5" fill="none"/>
<path d="M307.90 306.74h1.2M538.40 306.74h-1.2" stroke="#6a6a6a" stroke-width="0.5" fill="none"/>
<path d="M307.90 304.13h1.2M538.40 304.13h-1.2" stroke="#6a6a6a" stroke-width="0.5" fill="none"/>
<text x="423.40" y="268.30" text-anchor="middle" class="b">Gradient = 0.049243, at epoch 107</text>
<text transform="translate(291.00 311.00) rotate(-90) scale(1.08 1)" text-anchor="middle" class="l">gradient</text>
<path d="M307.84 271.63 L309.76 278.96 L311.85 281.58 L314.12 276.87 L316.57 287.69 L320.58 295.54 L322.85 295.54 L324.94 285.59 L327.04 308.63 L331.05 299.03 L335.76 310.72 L340.30 302.52 L343.27 309.50 L346.23 316.48 L350.25 310.03 L352.52 311.25 L354.96 317.36 L357.23 317.01 L359.85 308.28 L361.24 307.76 L364.21 321.72 L365.95 324.69 L369.97 305.49 L374.12 322.59 L377.61 306.01 L382.32 321.72 L385.29 303.05 L389.83 330.45 L391.92 310.03 L394.02 320.85 L396.29 323.46 L400.65 306.54 L403.27 319.10 L406.76 308.63 L409.72 317.36 L411.12 313.87 L413.74 332.19 L417.75 314.74 L420.20 333.06 L424.21 319.97 L426.48 338.30 L429.45 325.21 L432.73 334.81 L435.34 310.72 L437.61 318.23 L441.45 296.41 L443.55 308.63 L445.82 310.38 L447.56 309.50 L450.18 330.45 L451.92 320.85 L454.54 331.32 L456.81 332.19 L458.90 327.83 L461.00 334.81 L463.27 321.72 L465.54 333.06 L467.63 321.72 L471.12 333.41 L474.26 318.75 L476.36 326.95 L480.20 314.74 L482.46 320.85 L484.73 312.99 L486.98 321.20 L488.73 316.48 L490.82 320.85 L493.09 320.50 L494.83 321.20 L497.45 315.61 L499.55 320.50 L501.82 322.94 L503.91 316.48 L506.18 324.34 L507.92 316.48 L510.54 324.34 L512.29 320.85 L514.90 326.08 L517.00 317.36 L519.27 331.67 L521.36 325.21 L523.11 332.19 L525.38 317.01 L527.99 329.57 L529.74 320.85 L532.36 330.45 L534.45 327.83 L536.20 332.19 L538.46 317.36" fill="none" stroke="#0072BD" stroke-width="1.7" stroke-linejoin="round" stroke-linecap="round"/>
<rect x="307.50" y="385.50" width="231.00" height="81.00" fill="none" stroke="#808080" stroke-width="0.9"/>
<path d="M307.90 466.50v-2.5M307.90 385.50v2.5" stroke="#6a6a6a" stroke-width="0.7" fill="none"/>
<text transform="translate(307.90 477.00) scale(0.9 1)" text-anchor="middle" class="t">0</text>
<path d="M329.44 466.50v-2.5M329.44 385.50v2.5" stroke="#6a6a6a" stroke-width="0.7" fill="none"/>
<text transform="translate(329.44 477.00) scale(0.9 1)" text-anchor="middle" class="t">10</text>
<path d="M350.98 466.50v-2.5M350.98 385.50v2.5" stroke="#6a6a6a" stroke-width="0.7" fill="none"/>
<text transform="translate(350.98 477.00) scale(0.9 1)" text-anchor="middle" class="t">20</text>
<path d="M372.53 466.50v-2.5M372.53 385.50v2.5" stroke="#6a6a6a" stroke-width="0.7" fill="none"/>
<text transform="translate(372.53 477.00) scale(0.9 1)" text-anchor="middle" class="t">30</text>
<path d="M394.07 466.50v-2.5M394.07 385.50v2.5" stroke="#6a6a6a" stroke-width="0.7" fill="none"/>
<text transform="translate(394.07 477.00) scale(0.9 1)" text-anchor="middle" class="t">40</text>
<path d="M415.61 466.50v-2.5M415.61 385.50v2.5" stroke="#6a6a6a" stroke-width="0.7" fill="none"/>
<text transform="translate(415.61 477.00) scale(0.9 1)" text-anchor="middle" class="t">50</text>
<path d="M437.15 466.50v-2.5M437.15 385.50v2.5" stroke="#6a6a6a" stroke-width="0.7" fill="none"/>
<text transform="translate(437.15 477.00) scale(0.9 1)" text-anchor="middle" class="t">60</text>
<path d="M458.69 466.50v-2.5M458.69 385.50v2.5" stroke="#6a6a6a" stroke-width="0.7" fill="none"/>
<text transform="translate(458.69 477.00) scale(0.9 1)" text-anchor="middle" class="t">70</text>
<path d="M480.24 466.50v-2.5M480.24 385.50v2.5" stroke="#6a6a6a" stroke-width="0.7" fill="none"/>
<text transform="translate(480.24 477.00) scale(0.9 1)" text-anchor="middle" class="t">80</text>
<path d="M501.78 466.50v-2.5M501.78 385.50v2.5" stroke="#6a6a6a" stroke-width="0.7" fill="none"/>
<text transform="translate(501.78 477.00) scale(0.9 1)" text-anchor="middle" class="t">90</text>
<path d="M523.32 466.50v-2.5M523.32 385.50v2.5" stroke="#6a6a6a" stroke-width="0.7" fill="none"/>
<text transform="translate(523.32 477.00) scale(0.9 1)" text-anchor="middle" class="t">100</text>
<path d="M307.90 466.90h2.3M538.40 466.90h-2.3" stroke="#6a6a6a" stroke-width="0.7" fill="none"/>
<text transform="translate(304.90 469.90) scale(0.9 1)" text-anchor="end" class="t">0</text>
<path d="M307.90 439.63h2.3M538.40 439.63h-2.3" stroke="#6a6a6a" stroke-width="0.7" fill="none"/>
<text transform="translate(304.90 442.63) scale(0.9 1)" text-anchor="end" class="t">2</text>
<path d="M307.90 412.37h2.3M538.40 412.37h-2.3" stroke="#6a6a6a" stroke-width="0.7" fill="none"/>
<text transform="translate(304.90 415.37) scale(0.9 1)" text-anchor="end" class="t">4</text>
<path d="M307.90 385.10h2.3M538.40 385.10h-2.3" stroke="#6a6a6a" stroke-width="0.7" fill="none"/>
<text transform="translate(304.90 388.10) scale(0.9 1)" text-anchor="end" class="t">6</text>
<path d="M308.00 464.40l2.2 3.1l-2.2 3.1l-2.2 -3.1zM310.15 464.40l2.2 3.1l-2.2 3.1l-2.2 -3.1zM312.31 464.40l2.2 3.1l-2.2 3.1l-2.2 -3.1zM314.46 464.40l2.2 3.1l-2.2 3.1l-2.2 -3.1zM316.62 464.40l2.2 3.1l-2.2 3.1l-2.2 -3.1zM318.77 464.40l2.2 3.1l-2.2 3.1l-2.2 -3.1zM320.93 464.40l2.2 3.1l-2.2 3.1l-2.2 -3.1zM323.08 464.40l2.2 3.1l-2.2 3.1l-2.2 -3.1zM325.23 464.40l2.2 3.1l-2.2 3.1l-2.2 -3.1zM327.39 464.40l2.2 3.1l-2.2 3.1l-2.2 -3.1zM329.54 464.40l2.2 3.1l-2.2 3.1l-2.2 -3.1zM331.70 464.40l2.2 3.1l-2.2 3.1l-2.2 -3.1zM333.85 464.40l2.2 3.1l-2.2 3.1l-2.2 -3.1zM336.00 464.40l2.2 3.1l-2.2 3.1l-2.2 -3.1zM338.16 450.67l2.2 3.1l-2.2 3.1l-2.2 -3.1zM340.31 464.40l2.2 3.1l-2.2 3.1l-2.2 -3.1zM342.47 464.40l2.2 3.1l-2.2 3.1l-2.2 -3.1zM344.62 464.40l2.2 3.1l-2.2 3.1l-2.2 -3.1zM346.78 464.40l2.2 3.1l-2.2 3.1l-2.2 -3.1zM348.93 464.40l2.2 3.1l-2.2 3.1l-2.2 -3.1zM351.08 464.40l2.2 3.1l-2.2 3.1l-2.2 -3.1zM353.24 464.40l2.2 3.1l-2.2 3.1l-2.2 -3.1zM355.39 464.40l2.2 3.1l-2.2 3.1l-2.2 -3.1zM357.55 464.40l2.2 3.1l-2.2 3.1l-2.2 -3.1zM359.70 464.40l2.2 3.1l-2.2 3.1l-2.2 -3.1zM361.86 464.40l2.2 3.1l-2.2 3.1l-2.2 -3.1zM364.01 464.40l2.2 3.1l-2.2 3.1l-2.2 -3.1zM366.16 464.40l2.2 3.1l-2.2 3.1l-2.2 -3.1zM368.32 464.40l2.2 3.1l-2.2 3.1l-2.2 -3.1zM370.47 464.40l2.2 3.1l-2.2 3.1l-2.2 -3.1zM372.63 464.40l2.2 3.1l-2.2 3.1l-2.2 -3.1zM374.78 464.40l2.2 3.1l-2.2 3.1l-2.2 -3.1zM376.93 464.40l2.2 3.1l-2.2 3.1l-2.2 -3.1zM379.09 464.40l2.2 3.1l-2.2 3.1l-2.2 -3.1zM381.24 464.40l2.2 3.1l-2.2 3.1l-2.2 -3.1zM383.40 464.40l2.2 3.1l-2.2 3.1l-2.2 -3.1zM385.55 464.40l2.2 3.1l-2.2 3.1l-2.2 -3.1zM387.71 464.40l2.2 3.1l-2.2 3.1l-2.2 -3.1zM389.86 464.40l2.2 3.1l-2.2 3.1l-2.2 -3.1zM392.01 464.40l2.2 3.1l-2.2 3.1l-2.2 -3.1zM394.17 450.67l2.2 3.1l-2.2 3.1l-2.2 -3.1zM396.32 436.93l2.2 3.1l-2.2 3.1l-2.2 -3.1zM398.48 464.40l2.2 3.1l-2.2 3.1l-2.2 -3.1zM400.63 464.40l2.2 3.1l-2.2 3.1l-2.2 -3.1zM402.79 464.40l2.2 3.1l-2.2 3.1l-2.2 -3.1zM404.94 464.40l2.2 3.1l-2.2 3.1l-2.2 -3.1zM407.09 464.40l2.2 3.1l-2.2 3.1l-2.2 -3.1zM409.25 464.40l2.2 3.1l-2.2 3.1l-2.2 -3.1zM411.40 464.40l2.2 3.1l-2.2 3.1l-2.2 -3.1zM413.56 464.40l2.2 3.1l-2.2 3.1l-2.2 -3.1zM415.71 464.40l2.2 3.1l-2.2 3.1l-2.2 -3.1zM417.86 464.40l2.2 3.1l-2.2 3.1l-2.2 -3.1zM420.02 464.40l2.2 3.1l-2.2 3.1l-2.2 -3.1zM422.17 464.40l2.2 3.1l-2.2 3.1l-2.2 -3.1zM424.33 464.40l2.2 3.1l-2.2 3.1l-2.2 -3.1zM426.48 464.40l2.2 3.1l-2.2 3.1l-2.2 -3.1zM428.64 464.40l2.2 3.1l-2.2 3.1l-2.2 -3.1zM430.79 464.40l2.2 3.1l-2.2 3.1l-2.2 -3.1zM432.94 464.40l2.2 3.1l-2.2 3.1l-2.2 -3.1zM435.10 464.40l2.2 3.1l-2.2 3.1l-2.2 -3.1zM437.25 464.40l2.2 3.1l-2.2 3.1l-2.2 -3.1zM439.41 464.40l2.2 3.1l-2.2 3.1l-2.2 -3.1zM441.56 464.40l2.2 3.1l-2.2 3.1l-2.2 -3.1zM443.71 464.40l2.2 3.1l-2.2 3.1l-2.2 -3.1zM445.87 464.40l2.2 3.1l-2.2 3.1l-2.2 -3.1zM448.02 464.40l2.2 3.1l-2.2 3.1l-2.2 -3.1zM450.18 464.40l2.2 3.1l-2.2 3.1l-2.2 -3.1zM452.33 464.40l2.2 3.1l-2.2 3.1l-2.2 -3.1zM454.49 464.40l2.2 3.1l-2.2 3.1l-2.2 -3.1zM456.64 450.67l2.2 3.1l-2.2 3.1l-2.2 -3.1zM458.79 464.40l2.2 3.1l-2.2 3.1l-2.2 -3.1zM460.95 464.40l2.2 3.1l-2.2 3.1l-2.2 -3.1zM463.10 464.40l2.2 3.1l-2.2 3.1l-2.2 -3.1zM465.26 464.40l2.2 3.1l-2.2 3.1l-2.2 -3.1zM467.41 464.40l2.2 3.1l-2.2 3.1l-2.2 -3.1zM469.57 450.67l2.2 3.1l-2.2 3.1l-2.2 -3.1zM471.72 436.93l2.2 3.1l-2.2 3.1l-2.2 -3.1zM473.87 464.40l2.2 3.1l-2.2 3.1l-2.2 -3.1zM476.03 450.67l2.2 3.1l-2.2 3.1l-2.2 -3.1zM478.18 436.93l2.2 3.1l-2.2 3.1l-2.2 -3.1zM480.34 464.40l2.2 3.1l-2.2 3.1l-2.2 -3.1zM482.49 464.40l2.2 3.1l-2.2 3.1l-2.2 -3.1zM484.64 464.40l2.2 3.1l-2.2 3.1l-2.2 -3.1zM486.80 450.67l2.2 3.1l-2.2 3.1l-2.2 -3.1zM488.95 464.40l2.2 3.1l-2.2 3.1l-2.2 -3.1zM491.11 450.67l2.2 3.1l-2.2 3.1l-2.2 -3.1zM493.26 436.93l2.2 3.1l-2.2 3.1l-2.2 -3.1zM495.42 464.40l2.2 3.1l-2.2 3.1l-2.2 -3.1zM497.57 464.40l2.2 3.1l-2.2 3.1l-2.2 -3.1zM499.72 464.40l2.2 3.1l-2.2 3.1l-2.2 -3.1zM501.88 464.40l2.2 3.1l-2.2 3.1l-2.2 -3.1zM504.03 450.67l2.2 3.1l-2.2 3.1l-2.2 -3.1zM506.19 464.40l2.2 3.1l-2.2 3.1l-2.2 -3.1zM508.34 464.40l2.2 3.1l-2.2 3.1l-2.2 -3.1zM510.50 450.67l2.2 3.1l-2.2 3.1l-2.2 -3.1zM512.65 464.40l2.2 3.1l-2.2 3.1l-2.2 -3.1zM514.80 464.40l2.2 3.1l-2.2 3.1l-2.2 -3.1zM516.96 450.67l2.2 3.1l-2.2 3.1l-2.2 -3.1zM519.11 464.40l2.2 3.1l-2.2 3.1l-2.2 -3.1zM521.27 464.40l2.2 3.1l-2.2 3.1l-2.2 -3.1zM523.42 450.67l2.2 3.1l-2.2 3.1l-2.2 -3.1zM525.57 464.40l2.2 3.1l-2.2 3.1l-2.2 -3.1zM527.73 450.67l2.2 3.1l-2.2 3.1l-2.2 -3.1zM529.88 436.93l2.2 3.1l-2.2 3.1l-2.2 -3.1zM532.04 423.20l2.2 3.1l-2.2 3.1l-2.2 -3.1zM534.19 409.47l2.2 3.1l-2.2 3.1l-2.2 -3.1zM536.35 395.73l2.2 3.1l-2.2 3.1l-2.2 -3.1zM538.50 382.00l2.2 3.1l-2.2 3.1l-2.2 -3.1z" fill="#fa0015" stroke="#0072BD" stroke-width="0.75" stroke-linejoin="miter"/>
<path d="M308.00 465.30l1.4 2.2l-1.4 2.2l-1.4 -2.2zM310.15 465.30l1.4 2.2l-1.4 2.2l-1.4 -2.2zM312.31 465.30l1.4 2.2l-1.4 2.2l-1.4 -2.2zM314.46 465.30l1.4 2.2l-1.4 2.2l-1.4 -2.2zM316.62 465.30l1.4 2.2l-1.4 2.2l-1.4 -2.2zM318.77 465.30l1.4 2.2l-1.4 2.2l-1.4 -2.2zM320.93 465.30l1.4 2.2l-1.4 2.2l-1.4 -2.2zM323.08 465.30l1.4 2.2l-1.4 2.2l-1.4 -2.2zM325.23 465.30l1.4 2.2l-1.4 2.2l-1.4 -2.2zM327.39 465.30l1.4 2.2l-1.4 2.2l-1.4 -2.2zM329.54 465.30l1.4 2.2l-1.4 2.2l-1.4 -2.2zM331.70 465.30l1.4 2.2l-1.4 2.2l-1.4 -2.2zM333.85 465.30l1.4 2.2l-1.4 2.2l-1.4 -2.2zM336.00 465.30l1.4 2.2l-1.4 2.2l-1.4 -2.2zM338.16 451.57l1.4 2.2l-1.4 2.2l-1.4 -2.2zM340.31 465.30l1.4 2.2l-1.4 2.2l-1.4 -2.2zM342.47 465.30l1.4 2.2l-1.4 2.2l-1.4 -2.2zM344.62 465.30l1.4 2.2l-1.4 2.2l-1.4 -2.2zM346.78 465.30l1.4 2.2l-1.4 2.2l-1.4 -2.2zM348.93 465.30l1.4 2.2l-1.4 2.2l-1.4 -2.2zM351.08 465.30l1.4 2.2l-1.4 2.2l-1.4 -2.2zM353.24 465.30l1.4 2.2l-1.4 2.2l-1.4 -2.2zM355.39 465.30l1.4 2.2l-1.4 2.2l-1.4 -2.2zM357.55 465.30l1.4 2.2l-1.4 2.2l-1.4 -2.2zM359.70 465.30l1.4 2.2l-1.4 2.2l-1.4 -2.2zM361.86 465.30l1.4 2.2l-1.4 2.2l-1.4 -2.2zM364.01 465.30l1.4 2.2l-1.4 2.2l-1.4 -2.2zM366.16 465.30l1.4 2.2l-1.4 2.2l-1.4 -2.2zM368.32 465.30l1.4 2.2l-1.4 2.2l-1.4 -2.2zM370.47 465.30l1.4 2.2l-1.4 2.2l-1.4 -2.2zM372.63 465.30l1.4 2.2l-1.4 2.2l-1.4 -2.2zM374.78 465.30l1.4 2.2l-1.4 2.2l-1.4 -2.2zM376.93 465.30l1.4 2.2l-1.4 2.2l-1.4 -2.2zM379.09 465.30l1.4 2.2l-1.4 2.2l-1.4 -2.2zM381.24 465.30l1.4 2.2l-1.4 2.2l-1.4 -2.2zM383.40 465.30l1.4 2.2l-1.4 2.2l-1.4 -2.2zM385.55 465.30l1.4 2.2l-1.4 2.2l-1.4 -2.2zM387.71 465.30l1.4 2.2l-1.4 2.2l-1.4 -2.2zM389.86 465.30l1.4 2.2l-1.4 2.2l-1.4 -2.2zM392.01 465.30l1.4 2.2l-1.4 2.2l-1.4 -2.2zM394.17 451.57l1.4 2.2l-1.4 2.2l-1.4 -2.2zM396.32 437.83l1.4 2.2l-1.4 2.2l-1.4 -2.2zM398.48 465.30l1.4 2.2l-1.4 2.2l-1.4 -2.2zM400.63 465.30l1.4 2.2l-1.4 2.2l-1.4 -2.2zM402.79 465.30l1.4 2.2l-1.4 2.2l-1.4 -2.2zM404.94 465.30l1.4 2.2l-1.4 2.2l-1.4 -2.2zM407.09 465.30l1.4 2.2l-1.4 2.2l-1.4 -2.2zM409.25 465.30l1.4 2.2l-1.4 2.2l-1.4 -2.2zM411.40 465.30l1.4 2.2l-1.4 2.2l-1.4 -2.2zM413.56 465.30l1.4 2.2l-1.4 2.2l-1.4 -2.2zM415.71 465.30l1.4 2.2l-1.4 2.2l-1.4 -2.2zM417.86 465.30l1.4 2.2l-1.4 2.2l-1.4 -2.2zM420.02 465.30l1.4 2.2l-1.4 2.2l-1.4 -2.2zM422.17 465.30l1.4 2.2l-1.4 2.2l-1.4 -2.2zM424.33 465.30l1.4 2.2l-1.4 2.2l-1.4 -2.2zM426.48 465.30l1.4 2.2l-1.4 2.2l-1.4 -2.2zM428.64 465.30l1.4 2.2l-1.4 2.2l-1.4 -2.2zM430.79 465.30l1.4 2.2l-1.4 2.2l-1.4 -2.2zM432.94 465.30l1.4 2.2l-1.4 2.2l-1.4 -2.2zM435.10 465.30l1.4 2.2l-1.4 2.2l-1.4 -2.2zM437.25 465.30l1.4 2.2l-1.4 2.2l-1.4 -2.2zM439.41 465.30l1.4 2.2l-1.4 2.2l-1.4 -2.2zM441.56 465.30l1.4 2.2l-1.4 2.2l-1.4 -2.2zM443.71 465.30l1.4 2.2l-1.4 2.2l-1.4 -2.2zM445.87 465.30l1.4 2.2l-1.4 2.2l-1.4 -2.2zM448.02 465.30l1.4 2.2l-1.4 2.2l-1.4 -2.2zM450.18 465.30l1.4 2.2l-1.4 2.2l-1.4 -2.2zM452.33 465.30l1.4 2.2l-1.4 2.2l-1.4 -2.2zM454.49 465.30l1.4 2.2l-1.4 2.2l-1.4 -2.2zM456.64 451.57l1.4 2.2l-1.4 2.2l-1.4 -2.2zM458.79 465.30l1.4 2.2l-1.4 2.2l-1.4 -2.2zM460.95 465.30l1.4 2.2l-1.4 2.2l-1.4 -2.2zM463.10 465.30l1.4 2.2l-1.4 2.2l-1.4 -2.2zM465.26 465.30l1.4 2.2l-1.4 2.2l-1.4 -2.2zM467.41 465.30l1.4 2.2l-1.4 2.2l-1.4 -2.2zM469.57 451.57l1.4 2.2l-1.4 2.2l-1.4 -2.2zM471.72 437.83l1.4 2.2l-1.4 2.2l-1.4 -2.2zM473.87 465.30l1.4 2.2l-1.4 2.2l-1.4 -2.2zM476.03 451.57l1.4 2.2l-1.4 2.2l-1.4 -2.2zM478.18 437.83l1.4 2.2l-1.4 2.2l-1.4 -2.2zM480.34 465.30l1.4 2.2l-1.4 2.2l-1.4 -2.2zM482.49 465.30l1.4 2.2l-1.4 2.2l-1.4 -2.2zM484.64 465.30l1.4 2.2l-1.4 2.2l-1.4 -2.2zM486.80 451.57l1.4 2.2l-1.4 2.2l-1.4 -2.2zM488.95 465.30l1.4 2.2l-1.4 2.2l-1.4 -2.2zM491.11 451.57l1.4 2.2l-1.4 2.2l-1.4 -2.2zM493.26 437.83l1.4 2.2l-1.4 2.2l-1.4 -2.2zM495.42 465.30l1.4 2.2l-1.4 2.2l-1.4 -2.2zM497.57 465.30l1.4 2.2l-1.4 2.2l-1.4 -2.2zM499.72 465.30l1.4 2.2l-1.4 2.2l-1.4 -2.2zM501.88 465.30l1.4 2.2l-1.4 2.2l-1.4 -2.2zM504.03 451.57l1.4 2.2l-1.4 2.2l-1.4 -2.2zM506.19 465.30l1.4 2.2l-1.4 2.2l-1.4 -2.2zM508.34 465.30l1.4 2.2l-1.4 2.2l-1.4 -2.2zM510.50 451.57l1.4 2.2l-1.4 2.2l-1.4 -2.2zM512.65 465.30l1.4 2.2l-1.4 2.2l-1.4 -2.2zM514.80 465.30l1.4 2.2l-1.4 2.2l-1.4 -2.2zM516.96 451.57l1.4 2.2l-1.4 2.2l-1.4 -2.2zM519.11 465.30l1.4 2.2l-1.4 2.2l-1.4 -2.2zM521.27 465.30l1.4 2.2l-1.4 2.2l-1.4 -2.2zM523.42 451.57l1.4 2.2l-1.4 2.2l-1.4 -2.2zM525.57 465.30l1.4 2.2l-1.4 2.2l-1.4 -2.2zM527.73 451.57l1.4 2.2l-1.4 2.2l-1.4 -2.2zM529.88 437.83l1.4 2.2l-1.4 2.2l-1.4 -2.2zM532.04 424.10l1.4 2.2l-1.4 2.2l-1.4 -2.2zM534.19 410.37l1.4 2.2l-1.4 2.2l-1.4 -2.2zM536.35 396.63l1.4 2.2l-1.4 2.2l-1.4 -2.2zM538.50 382.90l1.4 2.2l-1.4 2.2l-1.4 -2.2z" fill="#fa0015" fill-opacity="0.4"/>
<text x="423.40" y="381.80" text-anchor="middle" class="b">Validation Checks = 6, at epoch 107</text>
<text transform="translate(298.80 426.30) rotate(-90) scale(1.08 1)" text-anchor="middle" class="l">val fail</text>
<text transform="translate(424 485.7) scale(0.95 1)" text-anchor="middle" class="l">107 Epochs</text>
<text x="411" y="510" text-anchor="middle" class="s">d.</text>
</svg>
</body></html>
